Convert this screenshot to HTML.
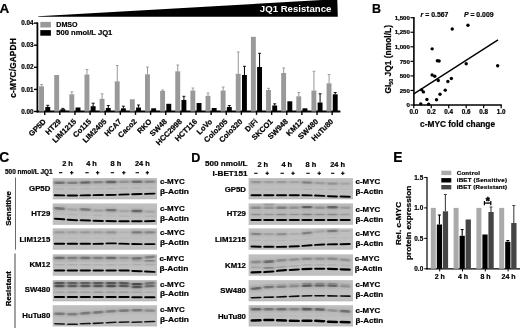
<!DOCTYPE html>
<html lang="en"><head><meta charset="utf-8"><title>Figure</title>
<style>html,body{margin:0;padding:0;background:#fff;}body{width:520px;height:328px;overflow:hidden;}svg{display:block;font-family:"Liberation Sans", sans-serif;}</style>
</head><body>
<svg width="520" height="328" viewBox="0 0 520 328">
<defs>
<filter id="b1" x="-5%" y="-50%" width="110%" height="200%"><feGaussianBlur stdDeviation="0.8 0.5"/></filter>
<filter id="b2" x="-5%" y="-50%" width="110%" height="200%"><feGaussianBlur stdDeviation="0.7 0.4"/></filter>
<filter id="b3" x="-10%" y="-50%" width="120%" height="200%"><feGaussianBlur stdDeviation="1.2 1.1"/></filter>
<filter id="soft" x="-2%" y="-2%" width="104%" height="104%"><feGaussianBlur stdDeviation="0.35"/></filter>
</defs>
<rect x="0" y="0" width="520" height="328" fill="#fff"/>
<g id="panelA" filter="url(#soft)">
<text x="-0.5" y="13.0" font-size="13.5" text-anchor="start" font-weight="bold" fill="#000" stroke="#000" stroke-width="0.22">A</text>
<polygon points="38.2,16.2 38.2,16.7 337.8,16.7 337.3,0 322,0" fill="#000"/>
<text x="295.6" y="11.9" font-size="9.6" text-anchor="middle" font-weight="bold" fill="#fff">JQ1 Resistance</text>
<line x1="37.40" y1="22.40" x2="37.40" y2="112.40" stroke="#000" stroke-width="1.8"/>
<line x1="36.50" y1="111.50" x2="340.40" y2="111.50" stroke="#000" stroke-width="2.0"/>
<line x1="34.00" y1="111.50" x2="37.40" y2="111.50" stroke="#000" stroke-width="1.4"/>
<text x="33.4" y="113.6" font-size="6.3" text-anchor="end" font-weight="bold" fill="#000" stroke="#000" stroke-width="0.22">0.00</text>
<line x1="34.00" y1="89.40" x2="37.40" y2="89.40" stroke="#000" stroke-width="1.4"/>
<text x="33.4" y="91.5" font-size="6.3" text-anchor="end" font-weight="bold" fill="#000" stroke="#000" stroke-width="0.22">0.01</text>
<line x1="34.00" y1="67.30" x2="37.40" y2="67.30" stroke="#000" stroke-width="1.4"/>
<text x="33.4" y="69.39999999999999" font-size="6.3" text-anchor="end" font-weight="bold" fill="#000" stroke="#000" stroke-width="0.22">0.02</text>
<line x1="34.00" y1="45.20" x2="37.40" y2="45.20" stroke="#000" stroke-width="1.4"/>
<text x="33.4" y="47.29999999999999" font-size="6.3" text-anchor="end" font-weight="bold" fill="#000" stroke="#000" stroke-width="0.22">0.03</text>
<line x1="34.00" y1="23.10" x2="37.40" y2="23.10" stroke="#000" stroke-width="1.4"/>
<text x="33.4" y="25.199999999999996" font-size="6.3" text-anchor="end" font-weight="bold" fill="#000" stroke="#000" stroke-width="0.22">0.04</text>
<text x="15.9" y="68.0" font-size="8.4" text-anchor="middle" font-weight="bold" fill="#000" transform="rotate(-90 15.9 68.0)" stroke="#000" stroke-width="0.22" textLength="59.4" lengthAdjust="spacing">c-MYC/GAPDH</text>
<rect x="40.30" y="21.90" width="10.60" height="5.60" fill="#999"/>
<text x="56.3" y="27.3" font-size="7.5" text-anchor="start" font-weight="bold" fill="#000" stroke="#000" stroke-width="0.22" textLength="21.2" lengthAdjust="spacingAndGlyphs">DMSO</text>
<rect x="40.30" y="30.10" width="10.60" height="5.60" fill="#000"/>
<text x="56.3" y="35.4" font-size="7.5" text-anchor="start" font-weight="bold" fill="#000" stroke="#000" stroke-width="0.22" textLength="56" lengthAdjust="spacingAndGlyphs">500 nmol/L JQ1</text>
<line x1="41.60" y1="84.50" x2="41.60" y2="86.30" stroke="#999" stroke-width="1.0"/>
<line x1="40.20" y1="84.50" x2="43.00" y2="84.50" stroke="#999" stroke-width="0.9"/>
<rect x="39.10" y="86.30" width="4.90" height="25.20" fill="#999"/>
<line x1="47.75" y1="105.30" x2="47.75" y2="107.00" stroke="#000" stroke-width="1.0"/>
<line x1="46.25" y1="105.30" x2="49.25" y2="105.30" stroke="#000" stroke-width="0.9"/>
<rect x="45.30" y="107.00" width="4.90" height="4.50" fill="#000"/>
<line x1="44.70" y1="111.50" x2="44.70" y2="114.90" stroke="#000" stroke-width="1.4"/>
<text x="46.400000000000006" y="122.1" font-size="7.6" text-anchor="end" font-weight="bold" fill="#000" transform="rotate(-45 46.400000000000006 122.1)" stroke="#000" stroke-width="0.22">GP5D</text>
<rect x="54.23" y="75.00" width="4.90" height="36.50" fill="#999"/>
<line x1="62.88" y1="108.40" x2="62.88" y2="109.20" stroke="#000" stroke-width="1.0"/>
<line x1="61.38" y1="108.40" x2="64.38" y2="108.40" stroke="#000" stroke-width="0.9"/>
<rect x="60.43" y="109.20" width="4.90" height="2.30" fill="#000"/>
<line x1="59.83" y1="111.50" x2="59.83" y2="114.90" stroke="#000" stroke-width="1.4"/>
<text x="61.53000000000001" y="122.1" font-size="7.6" text-anchor="end" font-weight="bold" fill="#000" transform="rotate(-45 61.53000000000001 122.1)" stroke="#000" stroke-width="0.22">HT29</text>
<line x1="71.86" y1="91.80" x2="71.86" y2="94.30" stroke="#999" stroke-width="1.0"/>
<line x1="70.46" y1="91.80" x2="73.26" y2="91.80" stroke="#999" stroke-width="0.9"/>
<rect x="69.36" y="94.30" width="4.90" height="17.20" fill="#999"/>
<rect x="75.56" y="107.50" width="4.90" height="4.00" fill="#000"/>
<line x1="74.96" y1="111.50" x2="74.96" y2="114.90" stroke="#000" stroke-width="1.4"/>
<text x="76.66000000000001" y="122.1" font-size="7.6" text-anchor="end" font-weight="bold" fill="#000" transform="rotate(-45 76.66000000000001 122.1)" stroke="#000" stroke-width="0.22">LIM1215</text>
<line x1="86.99" y1="69.50" x2="86.99" y2="74.50" stroke="#999" stroke-width="1.0"/>
<line x1="85.59" y1="69.50" x2="88.39" y2="69.50" stroke="#999" stroke-width="0.9"/>
<rect x="84.49" y="74.50" width="4.90" height="37.00" fill="#999"/>
<line x1="93.14" y1="103.20" x2="93.14" y2="106.20" stroke="#000" stroke-width="1.0"/>
<line x1="91.64" y1="103.20" x2="94.64" y2="103.20" stroke="#000" stroke-width="0.9"/>
<rect x="90.69" y="106.20" width="4.90" height="5.30" fill="#000"/>
<line x1="90.09" y1="111.50" x2="90.09" y2="114.90" stroke="#000" stroke-width="1.4"/>
<text x="91.79" y="122.1" font-size="7.6" text-anchor="end" font-weight="bold" fill="#000" transform="rotate(-45 91.79 122.1)" stroke="#000" stroke-width="0.22">Co115</text>
<line x1="102.12" y1="93.80" x2="102.12" y2="98.80" stroke="#999" stroke-width="1.0"/>
<line x1="100.72" y1="93.80" x2="103.52" y2="93.80" stroke="#999" stroke-width="0.9"/>
<rect x="99.62" y="98.80" width="4.90" height="12.70" fill="#999"/>
<line x1="108.27" y1="105.50" x2="108.27" y2="108.00" stroke="#000" stroke-width="1.0"/>
<line x1="106.77" y1="105.50" x2="109.77" y2="105.50" stroke="#000" stroke-width="0.9"/>
<rect x="105.82" y="108.00" width="4.90" height="3.50" fill="#000"/>
<line x1="105.22" y1="111.50" x2="105.22" y2="114.90" stroke="#000" stroke-width="1.4"/>
<text x="106.92000000000002" y="122.1" font-size="7.6" text-anchor="end" font-weight="bold" fill="#000" transform="rotate(-45 106.92000000000002 122.1)" stroke="#000" stroke-width="0.22">LIM2405</text>
<line x1="117.25" y1="65.50" x2="117.25" y2="81.30" stroke="#999" stroke-width="1.0"/>
<line x1="115.85" y1="65.50" x2="118.65" y2="65.50" stroke="#999" stroke-width="0.9"/>
<rect x="114.75" y="81.30" width="4.90" height="30.20" fill="#999"/>
<line x1="123.40" y1="106.20" x2="123.40" y2="108.30" stroke="#000" stroke-width="1.0"/>
<line x1="121.90" y1="106.20" x2="124.90" y2="106.20" stroke="#000" stroke-width="0.9"/>
<rect x="120.95" y="108.30" width="4.90" height="3.20" fill="#000"/>
<line x1="120.35" y1="111.50" x2="120.35" y2="114.90" stroke="#000" stroke-width="1.4"/>
<text x="122.05000000000001" y="122.1" font-size="7.6" text-anchor="end" font-weight="bold" fill="#000" transform="rotate(-45 122.05000000000001 122.1)" stroke="#000" stroke-width="0.22">HCA7</text>
<rect x="129.88" y="99.30" width="4.90" height="12.20" fill="#999"/>
<line x1="138.53" y1="105.00" x2="138.53" y2="107.50" stroke="#000" stroke-width="1.0"/>
<line x1="137.03" y1="105.00" x2="140.03" y2="105.00" stroke="#000" stroke-width="0.9"/>
<rect x="136.08" y="107.50" width="4.90" height="4.00" fill="#000"/>
<line x1="135.48" y1="111.50" x2="135.48" y2="114.90" stroke="#000" stroke-width="1.4"/>
<text x="137.17999999999998" y="122.1" font-size="7.6" text-anchor="end" font-weight="bold" fill="#000" transform="rotate(-45 137.17999999999998 122.1)" stroke="#000" stroke-width="0.22">Caco2</text>
<line x1="147.51" y1="67.00" x2="147.51" y2="74.30" stroke="#999" stroke-width="1.0"/>
<line x1="146.11" y1="67.00" x2="148.91" y2="67.00" stroke="#999" stroke-width="0.9"/>
<rect x="145.01" y="74.30" width="4.90" height="37.20" fill="#999"/>
<rect x="151.21" y="108.30" width="4.90" height="3.20" fill="#000"/>
<line x1="150.61" y1="111.50" x2="150.61" y2="114.90" stroke="#000" stroke-width="1.4"/>
<text x="152.31" y="122.1" font-size="7.6" text-anchor="end" font-weight="bold" fill="#000" transform="rotate(-45 152.31 122.1)" stroke="#000" stroke-width="0.22">RKO</text>
<line x1="162.64" y1="90.00" x2="162.64" y2="90.80" stroke="#999" stroke-width="1.0"/>
<line x1="161.24" y1="90.00" x2="164.04" y2="90.00" stroke="#999" stroke-width="0.9"/>
<rect x="160.14" y="90.80" width="4.90" height="20.70" fill="#999"/>
<rect x="166.34" y="103.80" width="4.90" height="7.70" fill="#000"/>
<line x1="165.74" y1="111.50" x2="165.74" y2="114.90" stroke="#000" stroke-width="1.4"/>
<text x="167.44" y="122.1" font-size="7.6" text-anchor="end" font-weight="bold" fill="#000" transform="rotate(-45 167.44 122.1)" stroke="#000" stroke-width="0.22">SW48</text>
<line x1="177.77" y1="65.00" x2="177.77" y2="71.30" stroke="#999" stroke-width="1.0"/>
<line x1="176.37" y1="65.00" x2="179.17" y2="65.00" stroke="#999" stroke-width="0.9"/>
<rect x="175.27" y="71.30" width="4.90" height="40.20" fill="#999"/>
<line x1="183.92" y1="96.30" x2="183.92" y2="100.00" stroke="#000" stroke-width="1.0"/>
<line x1="182.42" y1="96.30" x2="185.42" y2="96.30" stroke="#000" stroke-width="0.9"/>
<rect x="181.47" y="100.00" width="4.90" height="11.50" fill="#000"/>
<line x1="180.87" y1="111.50" x2="180.87" y2="114.90" stroke="#000" stroke-width="1.4"/>
<text x="182.57" y="122.1" font-size="7.6" text-anchor="end" font-weight="bold" fill="#000" transform="rotate(-45 182.57 122.1)" stroke="#000" stroke-width="0.22">HCC2998</text>
<line x1="192.90" y1="88.00" x2="192.90" y2="90.50" stroke="#999" stroke-width="1.0"/>
<line x1="191.50" y1="88.00" x2="194.30" y2="88.00" stroke="#999" stroke-width="0.9"/>
<rect x="190.40" y="90.50" width="4.90" height="21.00" fill="#999"/>
<rect x="196.60" y="103.00" width="4.90" height="8.50" fill="#000"/>
<line x1="196.00" y1="111.50" x2="196.00" y2="114.90" stroke="#000" stroke-width="1.4"/>
<text x="197.7" y="122.1" font-size="7.6" text-anchor="end" font-weight="bold" fill="#000" transform="rotate(-45 197.7 122.1)" stroke="#000" stroke-width="0.22">HCT116</text>
<line x1="208.03" y1="93.00" x2="208.03" y2="95.80" stroke="#999" stroke-width="1.0"/>
<line x1="206.63" y1="93.00" x2="209.43" y2="93.00" stroke="#999" stroke-width="0.9"/>
<rect x="205.53" y="95.80" width="4.90" height="15.70" fill="#999"/>
<rect x="211.73" y="108.00" width="4.90" height="3.50" fill="#000"/>
<line x1="211.13" y1="111.50" x2="211.13" y2="114.90" stroke="#000" stroke-width="1.4"/>
<text x="212.82999999999998" y="122.1" font-size="7.6" text-anchor="end" font-weight="bold" fill="#000" transform="rotate(-45 212.82999999999998 122.1)" stroke="#000" stroke-width="0.22">LoVo</text>
<line x1="223.16" y1="87.00" x2="223.16" y2="90.50" stroke="#999" stroke-width="1.0"/>
<line x1="221.76" y1="87.00" x2="224.56" y2="87.00" stroke="#999" stroke-width="0.9"/>
<rect x="220.66" y="90.50" width="4.90" height="21.00" fill="#999"/>
<line x1="229.31" y1="105.50" x2="229.31" y2="107.00" stroke="#000" stroke-width="1.0"/>
<line x1="227.81" y1="105.50" x2="230.81" y2="105.50" stroke="#000" stroke-width="0.9"/>
<rect x="226.86" y="107.00" width="4.90" height="4.50" fill="#000"/>
<line x1="226.26" y1="111.50" x2="226.26" y2="114.90" stroke="#000" stroke-width="1.4"/>
<text x="227.95999999999998" y="122.1" font-size="7.6" text-anchor="end" font-weight="bold" fill="#000" transform="rotate(-45 227.95999999999998 122.1)" stroke="#000" stroke-width="0.22">Colo205</text>
<line x1="238.29" y1="52.00" x2="238.29" y2="73.80" stroke="#999" stroke-width="1.0"/>
<line x1="236.89" y1="52.00" x2="239.69" y2="52.00" stroke="#999" stroke-width="0.9"/>
<rect x="235.79" y="73.80" width="4.90" height="37.70" fill="#999"/>
<line x1="244.44" y1="66.30" x2="244.44" y2="75.00" stroke="#000" stroke-width="1.0"/>
<line x1="242.94" y1="66.30" x2="245.94" y2="66.30" stroke="#000" stroke-width="0.9"/>
<rect x="241.99" y="75.00" width="4.90" height="36.50" fill="#000"/>
<line x1="241.39" y1="111.50" x2="241.39" y2="114.90" stroke="#000" stroke-width="1.4"/>
<text x="243.08999999999997" y="122.1" font-size="7.6" text-anchor="end" font-weight="bold" fill="#000" transform="rotate(-45 243.08999999999997 122.1)" stroke="#000" stroke-width="0.22">Colo320</text>
<rect x="250.92" y="36.80" width="4.90" height="74.70" fill="#999"/>
<line x1="259.57" y1="53.30" x2="259.57" y2="67.00" stroke="#000" stroke-width="1.0"/>
<line x1="258.07" y1="53.30" x2="261.07" y2="53.30" stroke="#000" stroke-width="0.9"/>
<rect x="257.12" y="67.00" width="4.90" height="44.50" fill="#000"/>
<line x1="256.52" y1="111.50" x2="256.52" y2="114.90" stroke="#000" stroke-width="1.4"/>
<text x="258.22" y="122.1" font-size="7.6" text-anchor="end" font-weight="bold" fill="#000" transform="rotate(-45 258.22 122.1)" stroke="#000" stroke-width="0.22">DiFi</text>
<line x1="268.55" y1="88.30" x2="268.55" y2="90.00" stroke="#999" stroke-width="1.0"/>
<line x1="267.15" y1="88.30" x2="269.95" y2="88.30" stroke="#999" stroke-width="0.9"/>
<rect x="266.05" y="90.00" width="4.90" height="21.50" fill="#999"/>
<line x1="274.70" y1="103.80" x2="274.70" y2="105.50" stroke="#000" stroke-width="1.0"/>
<line x1="273.20" y1="103.80" x2="276.20" y2="103.80" stroke="#000" stroke-width="0.9"/>
<rect x="272.25" y="105.50" width="4.90" height="6.00" fill="#000"/>
<line x1="271.65" y1="111.50" x2="271.65" y2="114.90" stroke="#000" stroke-width="1.4"/>
<text x="273.35" y="122.1" font-size="7.6" text-anchor="end" font-weight="bold" fill="#000" transform="rotate(-45 273.35 122.1)" stroke="#000" stroke-width="0.22">SKCO1</text>
<line x1="283.68" y1="68.00" x2="283.68" y2="73.00" stroke="#999" stroke-width="1.0"/>
<line x1="282.28" y1="68.00" x2="285.08" y2="68.00" stroke="#999" stroke-width="0.9"/>
<rect x="281.18" y="73.00" width="4.90" height="38.50" fill="#999"/>
<rect x="287.38" y="101.30" width="4.90" height="10.20" fill="#000"/>
<line x1="286.78" y1="111.50" x2="286.78" y2="114.90" stroke="#000" stroke-width="1.4"/>
<text x="288.48" y="122.1" font-size="7.6" text-anchor="end" font-weight="bold" fill="#000" transform="rotate(-45 288.48 122.1)" stroke="#000" stroke-width="0.22">SW948</text>
<line x1="298.81" y1="92.50" x2="298.81" y2="96.30" stroke="#999" stroke-width="1.0"/>
<line x1="297.41" y1="92.50" x2="300.21" y2="92.50" stroke="#999" stroke-width="0.9"/>
<rect x="296.31" y="96.30" width="4.90" height="15.20" fill="#999"/>
<rect x="302.51" y="108.30" width="4.90" height="3.20" fill="#000"/>
<line x1="301.91" y1="111.50" x2="301.91" y2="114.90" stroke="#000" stroke-width="1.4"/>
<text x="303.61" y="122.1" font-size="7.6" text-anchor="end" font-weight="bold" fill="#000" transform="rotate(-45 303.61 122.1)" stroke="#000" stroke-width="0.22">KM12</text>
<line x1="313.94" y1="71.30" x2="313.94" y2="90.50" stroke="#999" stroke-width="1.0"/>
<line x1="312.54" y1="71.30" x2="315.34" y2="71.30" stroke="#999" stroke-width="0.9"/>
<rect x="311.44" y="90.50" width="4.90" height="21.00" fill="#999"/>
<line x1="320.09" y1="93.80" x2="320.09" y2="102.50" stroke="#000" stroke-width="1.0"/>
<line x1="318.59" y1="93.80" x2="321.59" y2="93.80" stroke="#000" stroke-width="0.9"/>
<rect x="317.64" y="102.50" width="4.90" height="9.00" fill="#000"/>
<line x1="317.04" y1="111.50" x2="317.04" y2="114.90" stroke="#000" stroke-width="1.4"/>
<text x="318.74" y="122.1" font-size="7.6" text-anchor="end" font-weight="bold" fill="#000" transform="rotate(-45 318.74 122.1)" stroke="#000" stroke-width="0.22">SW480</text>
<line x1="329.07" y1="74.50" x2="329.07" y2="83.30" stroke="#999" stroke-width="1.0"/>
<line x1="327.67" y1="74.50" x2="330.47" y2="74.50" stroke="#999" stroke-width="0.9"/>
<rect x="326.57" y="83.30" width="4.90" height="28.20" fill="#999"/>
<line x1="335.22" y1="92.50" x2="335.22" y2="94.30" stroke="#000" stroke-width="1.0"/>
<line x1="333.72" y1="92.50" x2="336.72" y2="92.50" stroke="#000" stroke-width="0.9"/>
<rect x="332.77" y="94.30" width="4.90" height="17.20" fill="#000"/>
<line x1="332.17" y1="111.50" x2="332.17" y2="114.90" stroke="#000" stroke-width="1.4"/>
<text x="333.87" y="122.1" font-size="7.6" text-anchor="end" font-weight="bold" fill="#000" transform="rotate(-45 333.87 122.1)" stroke="#000" stroke-width="0.22">HuTu80</text>
</g>
<g id="panelB" filter="url(#soft)">
<text x="371.9" y="12.8" font-size="13.3" text-anchor="start" font-weight="bold" fill="#000" stroke="#000" stroke-width="0.22" textLength="9.0" lengthAdjust="spacingAndGlyphs">B</text>
<line x1="413.90" y1="17.00" x2="413.90" y2="105.80" stroke="#000" stroke-width="1.6"/>
<line x1="413.10" y1="105.00" x2="501.85" y2="105.00" stroke="#000" stroke-width="1.6"/>
<line x1="410.50" y1="105.00" x2="413.90" y2="105.00" stroke="#000" stroke-width="1.2"/>
<text x="409.9" y="107.2" font-size="6.1" text-anchor="end" font-weight="bold" fill="#000" stroke="#000" stroke-width="0.22">0</text>
<line x1="410.50" y1="90.45" x2="413.90" y2="90.45" stroke="#000" stroke-width="1.2"/>
<text x="409.9" y="92.65" font-size="6.1" text-anchor="end" font-weight="bold" fill="#000" stroke="#000" stroke-width="0.22">250</text>
<line x1="410.50" y1="75.90" x2="413.90" y2="75.90" stroke="#000" stroke-width="1.2"/>
<text x="409.9" y="78.10000000000001" font-size="6.1" text-anchor="end" font-weight="bold" fill="#000" stroke="#000" stroke-width="0.22">500</text>
<line x1="410.50" y1="61.35" x2="413.90" y2="61.35" stroke="#000" stroke-width="1.2"/>
<text x="409.9" y="63.550000000000004" font-size="6.1" text-anchor="end" font-weight="bold" fill="#000" stroke="#000" stroke-width="0.22">750</text>
<line x1="410.50" y1="46.80" x2="413.90" y2="46.80" stroke="#000" stroke-width="1.2"/>
<text x="409.9" y="49.00000000000001" font-size="6.1" text-anchor="end" font-weight="bold" fill="#000" stroke="#000" stroke-width="0.22">1,000</text>
<line x1="410.50" y1="32.25" x2="413.90" y2="32.25" stroke="#000" stroke-width="1.2"/>
<text x="409.9" y="34.45" font-size="6.1" text-anchor="end" font-weight="bold" fill="#000" stroke="#000" stroke-width="0.22">1,250</text>
<line x1="410.50" y1="17.70" x2="413.90" y2="17.70" stroke="#000" stroke-width="1.2"/>
<text x="409.9" y="19.900000000000002" font-size="6.1" text-anchor="end" font-weight="bold" fill="#000" stroke="#000" stroke-width="0.22">1,500</text>
<line x1="413.80" y1="105.00" x2="413.80" y2="108.20" stroke="#000" stroke-width="1.2"/>
<text x="413.8" y="114.4" font-size="6.3" text-anchor="middle" font-weight="bold" fill="#000" stroke="#000" stroke-width="0.22">0.0</text>
<line x1="431.27" y1="105.00" x2="431.27" y2="108.20" stroke="#000" stroke-width="1.2"/>
<text x="431.27" y="114.4" font-size="6.3" text-anchor="middle" font-weight="bold" fill="#000" stroke="#000" stroke-width="0.22">0.2</text>
<line x1="448.74" y1="105.00" x2="448.74" y2="108.20" stroke="#000" stroke-width="1.2"/>
<text x="448.74" y="114.4" font-size="6.3" text-anchor="middle" font-weight="bold" fill="#000" stroke="#000" stroke-width="0.22">0.4</text>
<line x1="466.21" y1="105.00" x2="466.21" y2="108.20" stroke="#000" stroke-width="1.2"/>
<text x="466.21000000000004" y="114.4" font-size="6.3" text-anchor="middle" font-weight="bold" fill="#000" stroke="#000" stroke-width="0.22">0.6</text>
<line x1="483.68" y1="105.00" x2="483.68" y2="108.20" stroke="#000" stroke-width="1.2"/>
<text x="483.68" y="114.4" font-size="6.3" text-anchor="middle" font-weight="bold" fill="#000" stroke="#000" stroke-width="0.22">0.8</text>
<line x1="501.15" y1="105.00" x2="501.15" y2="108.20" stroke="#000" stroke-width="1.2"/>
<text x="501.15" y="114.4" font-size="6.3" text-anchor="middle" font-weight="bold" fill="#000" stroke="#000" stroke-width="0.22">1.0</text>
<text x="457.6" y="126.7" font-size="8.4" text-anchor="middle" font-weight="bold" fill="#000" stroke="#000" stroke-width="0.22" textLength="75" lengthAdjust="spacingAndGlyphs">c-MYC fold change</text>
<text x="391.0" y="59.3" font-size="8.2" text-anchor="middle" font-weight="bold" stroke="#000" stroke-width="0.22" transform="rotate(-90 391.0 59.3)" textLength="68.5" lengthAdjust="spacingAndGlyphs">GI<tspan font-size="5.2" dy="1.6">50</tspan><tspan dy="-1.6"> JQ1 (nmol/L)</tspan></text>
<text x="420.6" y="17.1" font-size="6.9" font-weight="bold" stroke="#000" stroke-width="0.2"><tspan font-style="italic">r</tspan> = 0.567</text>
<text x="463.9" y="17.1" font-size="6.9" font-weight="bold" stroke="#000" stroke-width="0.2"><tspan font-style="italic">P</tspan> = 0.009</text>
<line x1="413.80" y1="93.80" x2="498.00" y2="39.80" stroke="#000" stroke-width="1.4"/>
<circle cx="497.66" cy="65.72" r="1.7" fill="#000"/>
<circle cx="467.96" cy="25.27" r="1.7" fill="#000"/>
<circle cx="452.23" cy="29.05" r="1.7" fill="#000"/>
<circle cx="466.21" cy="63.68" r="1.7" fill="#000"/>
<circle cx="432.14" cy="48.84" r="1.7" fill="#000"/>
<circle cx="437.38" cy="60.77" r="1.7" fill="#000"/>
<circle cx="439.13" cy="61.06" r="1.7" fill="#000"/>
<circle cx="432.14" cy="75.03" r="1.7" fill="#000"/>
<circle cx="434.76" cy="76.19" r="1.7" fill="#000"/>
<circle cx="451.36" cy="78.52" r="1.7" fill="#000"/>
<circle cx="447.87" cy="81.43" r="1.7" fill="#000"/>
<circle cx="438.26" cy="80.56" r="1.7" fill="#000"/>
<circle cx="445.25" cy="90.16" r="1.7" fill="#000"/>
<circle cx="440.00" cy="94.23" r="1.7" fill="#000"/>
<circle cx="421.66" cy="89.87" r="1.7" fill="#000"/>
<circle cx="423.41" cy="91.91" r="1.7" fill="#000"/>
<circle cx="426.90" cy="99.47" r="1.7" fill="#000"/>
<circle cx="436.51" cy="99.76" r="1.7" fill="#000"/>
<circle cx="420.79" cy="103.84" r="1.7" fill="#000"/>
<circle cx="428.65" cy="104.13" r="1.7" fill="#000"/>
</g>
<g id="panelC" filter="url(#soft)">
<text x="-0.7" y="162.0" font-size="13.8" text-anchor="start" font-weight="bold" fill="#000" stroke="#000" stroke-width="0.22">C</text>
<text x="67.5" y="165.9" font-size="7.4" text-anchor="middle" font-weight="bold" fill="#000" stroke="#000" stroke-width="0.22">2 h</text>
<text x="91.5" y="165.9" font-size="7.4" text-anchor="middle" font-weight="bold" fill="#000" stroke="#000" stroke-width="0.22">4 h</text>
<text x="115.9" y="165.9" font-size="7.4" text-anchor="middle" font-weight="bold" fill="#000" stroke="#000" stroke-width="0.22">8 h</text>
<text x="142.4" y="165.9" font-size="7.4" text-anchor="middle" font-weight="bold" fill="#000" stroke="#000" stroke-width="0.22">24 h</text>
<text x="5.0" y="173.8" font-size="7.0" text-anchor="start" font-weight="bold" fill="#000" stroke="#000" stroke-width="0.22" textLength="47.7" lengthAdjust="spacingAndGlyphs">500 nmol/L JQ1</text>
<line x1="59.00" y1="172.70" x2="62.40" y2="172.70" stroke="#000" stroke-width="1.1"/>
<line x1="70.00" y1="172.70" x2="73.40" y2="172.70" stroke="#000" stroke-width="1.1"/>
<line x1="71.70" y1="170.90" x2="71.70" y2="174.50" stroke="#000" stroke-width="1.1"/>
<line x1="85.30" y1="172.70" x2="88.70" y2="172.70" stroke="#000" stroke-width="1.1"/>
<line x1="95.90" y1="172.70" x2="99.30" y2="172.70" stroke="#000" stroke-width="1.1"/>
<line x1="97.60" y1="170.90" x2="97.60" y2="174.50" stroke="#000" stroke-width="1.1"/>
<line x1="110.70" y1="172.70" x2="114.10" y2="172.70" stroke="#000" stroke-width="1.1"/>
<line x1="122.10" y1="172.70" x2="125.50" y2="172.70" stroke="#000" stroke-width="1.1"/>
<line x1="123.80" y1="170.90" x2="123.80" y2="174.50" stroke="#000" stroke-width="1.1"/>
<line x1="135.60" y1="172.70" x2="139.00" y2="172.70" stroke="#000" stroke-width="1.1"/>
<line x1="145.60" y1="172.70" x2="149.00" y2="172.70" stroke="#000" stroke-width="1.1"/>
<line x1="147.30" y1="170.90" x2="147.30" y2="174.50" stroke="#000" stroke-width="1.1"/>
<line x1="15.50" y1="177.50" x2="15.50" y2="249.70" stroke="#444" stroke-width="0.8"/>
<line x1="15.00" y1="253.60" x2="15.00" y2="328.00" stroke="#707070" stroke-width="1.3"/>
<text x="11.0" y="208.5" font-size="8.0" text-anchor="middle" font-weight="bold" fill="#000" transform="rotate(-90 11.0 208.5)" stroke="#000" stroke-width="0.22" textLength="34.6" lengthAdjust="spacingAndGlyphs">Sensitive</text>
<text x="11.0" y="288.7" font-size="8.0" text-anchor="middle" font-weight="bold" fill="#000" transform="rotate(-90 11.0 288.7)" stroke="#000" stroke-width="0.22" textLength="35" lengthAdjust="spacingAndGlyphs">Resistant</text>
<clipPath id="cp1"><rect x="52.5" y="177.9" width="104.6" height="21.5"/></clipPath>
<g clip-path="url(#cp1)">
<rect x="52.50" y="177.90" width="104.60" height="21.50" fill="rgb(191,191,191)"/>
<rect x="52.50" y="177.90" width="104.60" height="0.80" fill="rgb(209,209,209)" opacity="0.7"/>
<rect x="52.50" y="198.50" width="104.60" height="0.90" fill="rgb(177,177,177)" opacity="0.7"/>
<g filter="url(#b3)">
<rect x="53.50" y="180.20" width="12.00" height="5.60" fill="rgb(174,174,174)"/>
<rect x="66.40" y="180.20" width="12.00" height="5.60" fill="rgb(177,177,177)"/>
<rect x="79.30" y="179.90" width="12.00" height="5.60" fill="rgb(171,171,171)"/>
<rect x="92.20" y="179.60" width="12.00" height="5.60" fill="rgb(178,178,178)"/>
<rect x="105.10" y="179.40" width="12.00" height="5.60" fill="rgb(171,171,171)"/>
<rect x="118.00" y="179.20" width="12.00" height="5.60" fill="rgb(181,181,181)"/>
<rect x="130.90" y="179.20" width="12.00" height="5.60" fill="rgb(173,173,173)"/>
<rect x="143.80" y="179.10" width="12.00" height="5.60" fill="rgb(178,178,178)"/>
</g>
<g filter="url(#b1)">
<rect x="54.20" y="181.60" width="10.60" height="2.40" fill="rgb(114,114,114)" rx="1.4" ry="1.20"/>
<rect x="67.10" y="181.60" width="10.60" height="2.40" fill="rgb(127,127,127)" rx="1.4" ry="1.20" transform="rotate(-0.7 72.4 182.8)"/>
<rect x="80.00" y="181.30" width="10.60" height="2.40" fill="rgb(101,101,101)" rx="1.4" ry="1.20" transform="rotate(-1.3 85.3 182.5)"/>
<rect x="92.90" y="181.00" width="10.60" height="2.40" fill="rgb(133,133,133)" rx="1.4" ry="1.20" transform="rotate(-1.1 98.2 182.2)"/>
<rect x="105.80" y="180.80" width="10.60" height="2.40" fill="rgb(101,101,101)" rx="1.4" ry="1.20" transform="rotate(-0.9 111.1 182.0)"/>
<rect x="118.70" y="180.60" width="10.60" height="2.40" fill="rgb(146,146,146)" rx="1.4" ry="1.20" transform="rotate(-0.4 124.0 181.8)"/>
<rect x="131.60" y="180.60" width="10.60" height="2.40" fill="rgb(108,108,108)" rx="1.4" ry="1.20"/>
<rect x="144.50" y="180.50" width="10.60" height="2.40" fill="rgb(133,133,133)" rx="1.4" ry="1.20" transform="rotate(-0.4 149.8 181.7)"/>
</g>
<g filter="url(#b1)">
<rect x="54.20" y="188.30" width="10.60" height="1.40" fill="rgb(177,177,177)" rx="1.4" ry="0.70"/>
<rect x="67.10" y="188.30" width="10.60" height="1.40" fill="rgb(180,180,180)" rx="1.4" ry="0.70" transform="rotate(-0.4 72.4 189.0)"/>
<rect x="80.00" y="188.10" width="10.60" height="1.40" fill="rgb(177,177,177)" rx="1.4" ry="0.70" transform="rotate(-0.9 85.3 188.8)"/>
<rect x="92.90" y="187.90" width="10.60" height="1.40" fill="rgb(180,180,180)" rx="1.4" ry="0.70" transform="rotate(-0.9 98.2 188.6)"/>
<rect x="105.80" y="187.70" width="10.60" height="1.40" fill="rgb(177,177,177)" rx="1.4" ry="0.70" transform="rotate(-0.9 111.1 188.4)"/>
<rect x="118.70" y="187.50" width="10.60" height="1.40" fill="rgb(177,177,177)" rx="1.4" ry="0.70" transform="rotate(-0.9 124.0 188.2)"/>
<rect x="131.60" y="187.30" width="10.60" height="1.40" fill="rgb(177,177,177)" rx="1.4" ry="0.70" transform="rotate(-0.9 136.9 188.0)"/>
<rect x="144.50" y="187.10" width="10.60" height="1.40" fill="rgb(180,180,180)" rx="1.4" ry="0.70" transform="rotate(-0.9 149.8 187.8)"/>
</g>
<g filter="url(#b2)">
<rect x="53.70" y="194.37" width="11.60" height="1.87" fill="rgb(4,4,4)" rx="1.8" ry="0.94" transform="rotate(0.9 59.5 195.3)"/>
<rect x="66.60" y="194.56" width="11.60" height="1.87" fill="rgb(4,4,4)" rx="1.8" ry="0.94"/>
<rect x="79.50" y="194.37" width="11.60" height="1.87" fill="rgb(4,4,4)" rx="1.8" ry="0.94" transform="rotate(-0.9 85.3 195.3)"/>
<rect x="92.40" y="194.17" width="11.60" height="1.87" fill="rgb(4,4,4)" rx="1.8" ry="0.94" transform="rotate(-0.9 98.2 195.1)"/>
<rect x="105.30" y="193.97" width="11.60" height="1.87" fill="rgb(4,4,4)" rx="1.8" ry="0.94" transform="rotate(-1.3 111.1 194.9)"/>
<rect x="118.20" y="193.56" width="11.60" height="1.87" fill="rgb(4,4,4)" rx="1.8" ry="0.94" transform="rotate(-1.8 124.0 194.5)"/>
<rect x="131.10" y="193.17" width="11.60" height="1.87" fill="rgb(4,4,4)" rx="1.8" ry="0.94" transform="rotate(-1.8 136.9 194.1)"/>
<rect x="144.00" y="192.77" width="11.60" height="1.87" fill="rgb(4,4,4)" rx="1.8" ry="0.94" transform="rotate(-1.8 149.8 193.7)"/>
</g>
</g>
<text x="50.3" y="191.05" font-size="7.8" text-anchor="end" font-weight="bold" fill="#000" stroke="#000" stroke-width="0.22">GP5D</text>
<text x="160.0" y="184.3" font-size="7.8" text-anchor="start" font-weight="bold" fill="#000" stroke="#000" stroke-width="0.22" textLength="24.8" lengthAdjust="spacingAndGlyphs">c-MYC</text>
<text x="160.0" y="194.4" font-size="7.8" text-anchor="start" font-weight="bold" fill="#000" stroke="#000" stroke-width="0.22" textLength="28.9" lengthAdjust="spacingAndGlyphs">β-Actin</text>
<clipPath id="cp2"><rect x="52.5" y="203.3" width="104.6" height="21.5"/></clipPath>
<g clip-path="url(#cp2)">
<rect x="52.50" y="203.30" width="104.60" height="21.50" fill="rgb(191,191,191)"/>
<rect x="52.50" y="203.30" width="104.60" height="0.80" fill="rgb(209,209,209)" opacity="0.7"/>
<rect x="52.50" y="223.90" width="104.60" height="0.90" fill="rgb(177,177,177)" opacity="0.7"/>
<g filter="url(#b3)">
<rect x="53.50" y="205.90" width="12.00" height="5.60" fill="rgb(174,174,174)"/>
<rect x="66.40" y="206.90" width="12.00" height="5.60" fill="rgb(185,185,185)"/>
<rect x="79.30" y="206.90" width="12.00" height="5.60" fill="rgb(176,176,176)"/>
<rect x="92.20" y="207.90" width="12.00" height="5.60" fill="rgb(184,184,184)"/>
<rect x="105.10" y="207.60" width="12.00" height="5.60" fill="rgb(174,174,174)"/>
<rect x="118.00" y="208.40" width="12.00" height="5.60" fill="rgb(185,185,185)"/>
<rect x="130.90" y="208.40" width="12.00" height="5.60" fill="rgb(171,171,171)"/>
<rect x="143.80" y="209.00" width="12.00" height="5.60" fill="rgb(185,185,185)"/>
</g>
<g filter="url(#b1)">
<rect x="54.20" y="207.25" width="10.60" height="2.50" fill="rgb(114,114,114)" rx="1.4" ry="1.25" transform="rotate(4.4 59.5 208.5)"/>
<rect x="67.10" y="208.25" width="10.60" height="2.50" fill="rgb(165,165,165)" rx="1.4" ry="1.25" transform="rotate(2.2 72.4 209.5)"/>
<rect x="80.00" y="208.25" width="10.60" height="2.50" fill="rgb(121,121,121)" rx="1.4" ry="1.25" transform="rotate(2.2 85.3 209.5)"/>
<rect x="92.90" y="209.25" width="10.60" height="2.50" fill="rgb(159,159,159)" rx="1.4" ry="1.25" transform="rotate(1.6 98.2 210.5)"/>
<rect x="105.80" y="208.95" width="10.60" height="2.50" fill="rgb(114,114,114)" rx="1.4" ry="1.25" transform="rotate(1.1 111.1 210.2)"/>
<rect x="118.70" y="209.75" width="10.60" height="2.50" fill="rgb(165,165,165)" rx="1.4" ry="1.25" transform="rotate(1.8 124.0 211.0)"/>
<rect x="131.60" y="209.75" width="10.60" height="2.50" fill="rgb(101,101,101)" rx="1.4" ry="1.25" transform="rotate(1.3 136.9 211.0)"/>
<rect x="144.50" y="210.35" width="10.60" height="2.50" fill="rgb(165,165,165)" rx="1.4" ry="1.25" transform="rotate(2.7 149.8 211.6)"/>
</g>
<g filter="url(#b1)">
<rect x="54.20" y="213.40" width="10.60" height="1.40" fill="rgb(184,184,184)" rx="1.4" ry="0.70" transform="rotate(2.2 59.5 214.1)"/>
<rect x="67.10" y="213.90" width="10.60" height="1.40" fill="rgb(177,177,177)" rx="1.4" ry="0.70" transform="rotate(2.2 72.4 214.6)"/>
<rect x="80.00" y="214.40" width="10.60" height="1.40" fill="rgb(184,184,184)" rx="1.4" ry="0.70" transform="rotate(2.2 85.3 215.1)"/>
<rect x="92.90" y="214.90" width="10.60" height="1.40" fill="rgb(177,177,177)" rx="1.4" ry="0.70" transform="rotate(1.6 98.2 215.6)"/>
<rect x="105.80" y="215.10" width="10.60" height="1.40" fill="rgb(184,184,184)" rx="1.4" ry="0.70" transform="rotate(1.1 111.1 215.8)"/>
<rect x="118.70" y="215.40" width="10.60" height="1.40" fill="rgb(177,177,177)" rx="1.4" ry="0.70" transform="rotate(1.1 124.0 216.1)"/>
<rect x="131.60" y="215.60" width="10.60" height="1.40" fill="rgb(184,184,184)" rx="1.4" ry="0.70" transform="rotate(0.4 136.9 216.3)"/>
<rect x="144.50" y="215.60" width="10.60" height="1.40" fill="rgb(177,177,177)" rx="1.4" ry="0.70"/>
</g>
<g filter="url(#b2)">
<rect x="53.70" y="218.02" width="11.60" height="1.95" fill="rgb(4,4,4)" rx="1.8" ry="0.98" transform="rotate(4.4 59.5 219.0)"/>
<rect x="66.60" y="219.02" width="11.60" height="1.95" fill="rgb(4,4,4)" rx="1.8" ry="0.98" transform="rotate(3.1 72.4 220.0)"/>
<rect x="79.50" y="219.42" width="11.60" height="1.95" fill="rgb(4,4,4)" rx="1.8" ry="0.98" transform="rotate(2.0 85.3 220.4)"/>
<rect x="92.40" y="219.92" width="11.60" height="1.95" fill="rgb(4,4,4)" rx="1.8" ry="0.98" transform="rotate(1.6 98.2 220.9)"/>
<rect x="105.30" y="220.12" width="11.60" height="1.95" fill="rgb(4,4,4)" rx="1.8" ry="0.98" transform="rotate(0.9 111.1 221.1)"/>
<rect x="118.20" y="220.32" width="11.60" height="1.95" fill="rgb(4,4,4)" rx="1.8" ry="0.98" transform="rotate(0.4 124.0 221.3)"/>
<rect x="131.10" y="220.32" width="11.60" height="1.95" fill="rgb(4,4,4)" rx="1.8" ry="0.98" transform="rotate(-0.4 136.9 221.3)"/>
<rect x="144.00" y="220.12" width="11.60" height="1.95" fill="rgb(4,4,4)" rx="1.8" ry="0.98" transform="rotate(-0.9 149.8 221.1)"/>
</g>
</g>
<text x="50.3" y="215.5" font-size="7.8" text-anchor="end" font-weight="bold" fill="#000" stroke="#000" stroke-width="0.22">HT29</text>
<text x="160.0" y="211.0" font-size="7.8" text-anchor="start" font-weight="bold" fill="#000" stroke="#000" stroke-width="0.22" textLength="24.8" lengthAdjust="spacingAndGlyphs">c-MYC</text>
<text x="160.0" y="220.9" font-size="7.8" text-anchor="start" font-weight="bold" fill="#000" stroke="#000" stroke-width="0.22" textLength="28.9" lengthAdjust="spacingAndGlyphs">β-Actin</text>
<clipPath id="cp3"><rect x="52.5" y="228.2" width="104.6" height="21.5"/></clipPath>
<g clip-path="url(#cp3)">
<rect x="52.50" y="228.20" width="104.60" height="21.50" fill="rgb(191,191,191)"/>
<rect x="52.50" y="228.20" width="104.60" height="0.80" fill="rgb(209,209,209)" opacity="0.7"/>
<rect x="52.50" y="248.80" width="104.60" height="0.90" fill="rgb(177,177,177)" opacity="0.7"/>
<g filter="url(#b3)">
<rect x="53.50" y="229.80" width="12.00" height="5.60" fill="rgb(183,183,183)"/>
<rect x="66.40" y="229.80" width="12.00" height="5.60" fill="rgb(184,184,184)"/>
<rect x="79.30" y="229.80" width="12.00" height="5.60" fill="rgb(183,183,183)"/>
<rect x="92.20" y="229.80" width="12.00" height="5.60" fill="rgb(184,184,184)"/>
<rect x="105.10" y="229.80" width="12.00" height="5.60" fill="rgb(181,181,181)"/>
<rect x="130.90" y="229.80" width="12.00" height="5.60" fill="rgb(176,176,176)"/>
<rect x="143.80" y="229.80" width="12.00" height="5.60" fill="rgb(178,178,178)"/>
</g>
<g filter="url(#b1)">
<rect x="54.20" y="231.20" width="10.60" height="2.40" fill="rgb(153,153,153)" rx="1.4" ry="1.20"/>
<rect x="67.10" y="231.20" width="10.60" height="2.40" fill="rgb(159,159,159)" rx="1.4" ry="1.20"/>
<rect x="80.00" y="231.20" width="10.60" height="2.40" fill="rgb(153,153,153)" rx="1.4" ry="1.20"/>
<rect x="92.90" y="231.20" width="10.60" height="2.40" fill="rgb(159,159,159)" rx="1.4" ry="1.20"/>
<rect x="105.80" y="231.20" width="10.60" height="2.40" fill="rgb(146,146,146)" rx="1.4" ry="1.20"/>
<rect x="118.70" y="231.20" width="10.60" height="2.40" fill="rgb(178,178,178)" rx="1.4" ry="1.20"/>
<rect x="131.60" y="231.20" width="10.60" height="2.40" fill="rgb(121,121,121)" rx="1.4" ry="1.20"/>
<rect x="144.50" y="231.20" width="10.60" height="2.40" fill="rgb(133,133,133)" rx="1.4" ry="1.20"/>
</g>
<g filter="url(#b1)">
<rect x="54.20" y="237.70" width="10.60" height="1.40" fill="rgb(183,183,183)" rx="1.4" ry="0.70"/>
<rect x="67.10" y="237.70" width="10.60" height="1.40" fill="rgb(183,183,183)" rx="1.4" ry="0.70"/>
<rect x="80.00" y="237.70" width="10.60" height="1.40" fill="rgb(183,183,183)" rx="1.4" ry="0.70"/>
<rect x="92.90" y="237.70" width="10.60" height="1.40" fill="rgb(183,183,183)" rx="1.4" ry="0.70"/>
<rect x="105.80" y="237.70" width="10.60" height="1.40" fill="rgb(183,183,183)" rx="1.4" ry="0.70"/>
<rect x="118.70" y="237.70" width="10.60" height="1.40" fill="rgb(183,183,183)" rx="1.4" ry="0.70"/>
<rect x="131.60" y="237.70" width="10.60" height="1.40" fill="rgb(183,183,183)" rx="1.4" ry="0.70"/>
<rect x="144.50" y="237.70" width="10.60" height="1.40" fill="rgb(183,183,183)" rx="1.4" ry="0.70"/>
</g>
<g filter="url(#b2)">
<rect x="53.70" y="242.86" width="11.60" height="1.87" fill="rgb(4,4,4)" rx="1.8" ry="0.94"/>
<rect x="66.60" y="242.86" width="11.60" height="1.87" fill="rgb(4,4,4)" rx="1.8" ry="0.94"/>
<rect x="79.50" y="242.86" width="11.60" height="1.87" fill="rgb(4,4,4)" rx="1.8" ry="0.94"/>
<rect x="92.40" y="242.86" width="11.60" height="1.87" fill="rgb(4,4,4)" rx="1.8" ry="0.94" transform="rotate(-0.9 98.2 243.8)"/>
<rect x="105.30" y="242.46" width="11.60" height="1.87" fill="rgb(4,4,4)" rx="1.8" ry="0.94"/>
<rect x="118.20" y="242.86" width="11.60" height="1.87" fill="rgb(4,4,4)" rx="1.8" ry="0.94" transform="rotate(1.6 124.0 243.8)"/>
<rect x="131.10" y="243.16" width="11.60" height="1.87" fill="rgb(4,4,4)" rx="1.8" ry="0.94" transform="rotate(0.7 136.9 244.1)"/>
<rect x="144.00" y="243.16" width="11.60" height="1.87" fill="rgb(4,4,4)" rx="1.8" ry="0.94"/>
</g>
</g>
<text x="50.3" y="241.7" font-size="7.8" text-anchor="end" font-weight="bold" fill="#000" stroke="#000" stroke-width="0.22">LIM1215</text>
<text x="160.0" y="234.8" font-size="7.8" text-anchor="start" font-weight="bold" fill="#000" stroke="#000" stroke-width="0.22" textLength="24.8" lengthAdjust="spacingAndGlyphs">c-MYC</text>
<text x="160.0" y="244.7" font-size="7.8" text-anchor="start" font-weight="bold" fill="#000" stroke="#000" stroke-width="0.22" textLength="28.9" lengthAdjust="spacingAndGlyphs">β-Actin</text>
<clipPath id="cp4"><rect x="52.5" y="254.2" width="104.6" height="21.5"/></clipPath>
<g clip-path="url(#cp4)">
<rect x="52.50" y="254.20" width="104.60" height="21.50" fill="rgb(191,191,191)"/>
<rect x="52.50" y="254.20" width="104.60" height="0.80" fill="rgb(209,209,209)" opacity="0.7"/>
<rect x="52.50" y="274.80" width="104.60" height="0.90" fill="rgb(177,177,177)" opacity="0.7"/>
<g filter="url(#b3)">
<rect x="53.50" y="255.40" width="12.00" height="5.60" fill="rgb(173,173,173)"/>
<rect x="66.40" y="255.40" width="12.00" height="5.60" fill="rgb(177,177,177)"/>
<rect x="79.30" y="255.40" width="12.00" height="5.60" fill="rgb(174,174,174)"/>
<rect x="92.20" y="255.40" width="12.00" height="5.60" fill="rgb(177,177,177)"/>
<rect x="105.10" y="255.40" width="12.00" height="5.60" fill="rgb(173,173,173)"/>
<rect x="118.00" y="255.40" width="12.00" height="5.60" fill="rgb(181,181,181)"/>
<rect x="130.90" y="255.70" width="12.00" height="5.60" fill="rgb(174,174,174)"/>
<rect x="143.80" y="254.50" width="12.00" height="5.60" fill="rgb(177,177,177)"/>
<rect x="130.90" y="258.20" width="12.00" height="5.60" fill="rgb(185,185,185)"/>
<rect x="143.80" y="258.20" width="12.00" height="5.60" fill="rgb(178,178,178)"/>
</g>
<g filter="url(#b1)">
<rect x="54.20" y="256.75" width="10.60" height="2.50" fill="rgb(108,108,108)" rx="1.4" ry="1.25"/>
<rect x="67.10" y="256.75" width="10.60" height="2.50" fill="rgb(127,127,127)" rx="1.4" ry="1.25"/>
<rect x="80.00" y="256.75" width="10.60" height="2.50" fill="rgb(114,114,114)" rx="1.4" ry="1.25"/>
<rect x="92.90" y="256.75" width="10.60" height="2.50" fill="rgb(127,127,127)" rx="1.4" ry="1.25"/>
<rect x="105.80" y="256.75" width="10.60" height="2.50" fill="rgb(108,108,108)" rx="1.4" ry="1.25"/>
<rect x="118.70" y="256.75" width="10.60" height="2.50" fill="rgb(146,146,146)" rx="1.4" ry="1.25" transform="rotate(0.7 124.0 258.0)"/>
<rect x="131.60" y="257.05" width="10.60" height="2.50" fill="rgb(114,114,114)" rx="1.4" ry="1.25" transform="rotate(-2.0 136.9 258.3)"/>
<rect x="144.50" y="255.85" width="10.60" height="2.50" fill="rgb(127,127,127)" rx="1.4" ry="1.25" transform="rotate(-5.3 149.8 257.1)"/>
</g>
<g filter="url(#b1)">
<rect x="54.20" y="260.00" width="10.60" height="1.60" fill="rgb(177,177,177)" rx="1.4" ry="0.80"/>
<rect x="67.10" y="260.00" width="10.60" height="1.60" fill="rgb(170,170,170)" rx="1.4" ry="0.80"/>
<rect x="80.00" y="260.00" width="10.60" height="1.60" fill="rgb(177,177,177)" rx="1.4" ry="0.80"/>
<rect x="92.90" y="260.00" width="10.60" height="1.60" fill="rgb(174,174,174)" rx="1.4" ry="0.80"/>
<rect x="105.80" y="260.00" width="10.60" height="1.60" fill="rgb(177,177,177)" rx="1.4" ry="0.80"/>
<rect x="118.70" y="260.00" width="10.60" height="1.60" fill="rgb(177,177,177)" rx="1.4" ry="0.80"/>
<rect x="131.60" y="260.00" width="10.60" height="1.60" fill="rgb(163,163,163)" rx="1.4" ry="0.80"/>
<rect x="144.50" y="260.00" width="10.60" height="1.60" fill="rgb(128,128,128)" rx="1.4" ry="0.80"/>
</g>
<g filter="url(#b1)">
<rect x="54.20" y="264.05" width="10.60" height="1.50" fill="rgb(171,171,171)" rx="1.4" ry="0.75"/>
<rect x="67.10" y="264.05" width="10.60" height="1.50" fill="rgb(174,174,174)" rx="1.4" ry="0.75"/>
<rect x="80.00" y="264.05" width="10.60" height="1.50" fill="rgb(174,174,174)" rx="1.4" ry="0.75"/>
<rect x="92.90" y="264.05" width="10.60" height="1.50" fill="rgb(177,177,177)" rx="1.4" ry="0.75"/>
<rect x="105.80" y="264.05" width="10.60" height="1.50" fill="rgb(174,174,174)" rx="1.4" ry="0.75"/>
<rect x="118.70" y="264.05" width="10.60" height="1.50" fill="rgb(177,177,177)" rx="1.4" ry="0.75"/>
<rect x="131.60" y="264.05" width="10.60" height="1.50" fill="rgb(174,174,174)" rx="1.4" ry="0.75"/>
<rect x="144.50" y="264.05" width="10.60" height="1.50" fill="rgb(171,171,171)" rx="1.4" ry="0.75"/>
</g>
<g filter="url(#b2)">
<rect x="53.70" y="269.52" width="11.60" height="1.95" fill="rgb(4,4,4)" rx="1.8" ry="0.98"/>
<rect x="66.60" y="269.52" width="11.60" height="1.95" fill="rgb(4,4,4)" rx="1.8" ry="0.98"/>
<rect x="79.50" y="269.52" width="11.60" height="1.95" fill="rgb(4,4,4)" rx="1.8" ry="0.98"/>
<rect x="92.40" y="269.52" width="11.60" height="1.95" fill="rgb(4,4,4)" rx="1.8" ry="0.98"/>
<rect x="105.30" y="269.52" width="11.60" height="1.95" fill="rgb(4,4,4)" rx="1.8" ry="0.98"/>
<rect x="118.20" y="269.52" width="11.60" height="1.95" fill="rgb(4,4,4)" rx="1.8" ry="0.98" transform="rotate(1.3 124.0 270.5)"/>
<rect x="131.10" y="270.12" width="11.60" height="1.95" fill="rgb(4,4,4)" rx="1.8" ry="0.98" transform="rotate(2.7 136.9 271.1)"/>
<rect x="144.00" y="270.72" width="11.60" height="1.95" fill="rgb(4,4,4)" rx="1.8" ry="0.98" transform="rotate(2.7 149.8 271.7)"/>
</g>
</g>
<text x="50.3" y="266.8" font-size="7.8" text-anchor="end" font-weight="bold" fill="#000" stroke="#000" stroke-width="0.22">KM12</text>
<text x="159.4" y="260.8" font-size="7.8" text-anchor="start" font-weight="bold" fill="#000" stroke="#000" stroke-width="0.22" textLength="24.8" lengthAdjust="spacingAndGlyphs">c-MYC</text>
<text x="159.4" y="270.7" font-size="7.8" text-anchor="start" font-weight="bold" fill="#000" stroke="#000" stroke-width="0.22" textLength="28.9" lengthAdjust="spacingAndGlyphs">β-Actin</text>
<clipPath id="cp5"><rect x="52.5" y="279.9" width="104.6" height="21.5"/></clipPath>
<g clip-path="url(#cp5)">
<rect x="52.50" y="279.90" width="104.60" height="21.50" fill="rgb(191,191,191)"/>
<rect x="52.50" y="279.90" width="104.60" height="0.80" fill="rgb(209,209,209)" opacity="0.7"/>
<rect x="52.50" y="300.50" width="104.60" height="0.90" fill="rgb(177,177,177)" opacity="0.7"/>
<g filter="url(#b3)">
<rect x="53.50" y="280.70" width="12.00" height="5.60" fill="rgb(167,167,167)"/>
<rect x="66.40" y="280.70" width="12.00" height="5.60" fill="rgb(170,170,170)"/>
<rect x="79.30" y="280.70" width="12.00" height="5.60" fill="rgb(170,170,170)"/>
<rect x="92.20" y="280.70" width="12.00" height="5.60" fill="rgb(169,169,169)"/>
<rect x="105.10" y="280.70" width="12.00" height="5.60" fill="rgb(167,167,167)"/>
<rect x="118.00" y="280.70" width="12.00" height="5.60" fill="rgb(169,169,169)"/>
<rect x="130.90" y="281.70" width="12.00" height="5.60" fill="rgb(166,166,166)"/>
<rect x="143.80" y="280.70" width="12.00" height="5.60" fill="rgb(174,174,174)"/>
<rect x="53.50" y="283.50" width="12.00" height="5.60" fill="rgb(169,169,169)"/>
<rect x="66.40" y="283.50" width="12.00" height="5.60" fill="rgb(171,171,171)"/>
<rect x="79.30" y="283.50" width="12.00" height="5.60" fill="rgb(170,170,170)"/>
<rect x="92.20" y="283.50" width="12.00" height="5.60" fill="rgb(170,170,170)"/>
<rect x="105.10" y="283.50" width="12.00" height="5.60" fill="rgb(169,169,169)"/>
<rect x="118.00" y="283.50" width="12.00" height="5.60" fill="rgb(170,170,170)"/>
<rect x="130.90" y="284.50" width="12.00" height="5.60" fill="rgb(170,170,170)"/>
<rect x="143.80" y="283.50" width="12.00" height="5.60" fill="rgb(174,174,174)"/>
<rect x="53.50" y="289.70" width="12.00" height="5.60" fill="rgb(185,185,185)"/>
<rect x="66.40" y="289.70" width="12.00" height="5.60" fill="rgb(184,184,184)"/>
<rect x="79.30" y="289.70" width="12.00" height="5.60" fill="rgb(185,185,185)"/>
<rect x="92.20" y="289.70" width="12.00" height="5.60" fill="rgb(183,183,183)"/>
<rect x="105.10" y="289.70" width="12.00" height="5.60" fill="rgb(184,184,184)"/>
<rect x="118.00" y="289.70" width="12.00" height="5.60" fill="rgb(184,184,184)"/>
<rect x="130.90" y="289.70" width="12.00" height="5.60" fill="rgb(185,185,185)"/>
</g>
<g filter="url(#b1)">
<rect x="54.20" y="282.00" width="10.60" height="2.60" fill="rgb(82,82,82)" rx="1.4" ry="1.30"/>
<rect x="67.10" y="282.00" width="10.60" height="2.60" fill="rgb(95,95,95)" rx="1.4" ry="1.30"/>
<rect x="80.00" y="282.00" width="10.60" height="2.60" fill="rgb(95,95,95)" rx="1.4" ry="1.30"/>
<rect x="92.90" y="282.00" width="10.60" height="2.60" fill="rgb(89,89,89)" rx="1.4" ry="1.30"/>
<rect x="105.80" y="282.00" width="10.60" height="2.60" fill="rgb(82,82,82)" rx="1.4" ry="1.30"/>
<rect x="118.70" y="282.00" width="10.60" height="2.60" fill="rgb(89,89,89)" rx="1.4" ry="1.30" transform="rotate(2.2 124.0 283.3)"/>
<rect x="131.60" y="283.00" width="10.60" height="2.60" fill="rgb(76,76,76)" rx="1.4" ry="1.30"/>
<rect x="144.50" y="282.00" width="10.60" height="2.60" fill="rgb(114,114,114)" rx="1.4" ry="1.30" transform="rotate(-4.4 149.8 283.3)"/>
</g>
<g filter="url(#b1)">
<rect x="54.20" y="285.00" width="10.60" height="2.20" fill="rgb(79,79,79)" rx="1.4" ry="1.10"/>
<rect x="67.10" y="285.00" width="10.60" height="2.20" fill="rgb(93,93,93)" rx="1.4" ry="1.10"/>
<rect x="80.00" y="285.00" width="10.60" height="2.20" fill="rgb(86,86,86)" rx="1.4" ry="1.10"/>
<rect x="92.90" y="285.00" width="10.60" height="2.20" fill="rgb(86,86,86)" rx="1.4" ry="1.10"/>
<rect x="105.80" y="285.00" width="10.60" height="2.20" fill="rgb(79,79,79)" rx="1.4" ry="1.10"/>
<rect x="118.70" y="285.00" width="10.60" height="2.20" fill="rgb(86,86,86)" rx="1.4" ry="1.10" transform="rotate(2.2 124.0 286.1)"/>
<rect x="131.60" y="286.00" width="10.60" height="2.20" fill="rgb(86,86,86)" rx="1.4" ry="1.10"/>
<rect x="144.50" y="285.00" width="10.60" height="2.20" fill="rgb(107,107,107)" rx="1.4" ry="1.10" transform="rotate(-4.4 149.8 286.1)"/>
</g>
<g filter="url(#b1)">
<rect x="54.20" y="291.50" width="10.60" height="1.60" fill="rgb(163,163,163)" rx="1.4" ry="0.80"/>
<rect x="67.10" y="291.50" width="10.60" height="1.60" fill="rgb(156,156,156)" rx="1.4" ry="0.80"/>
<rect x="80.00" y="291.50" width="10.60" height="1.60" fill="rgb(160,160,160)" rx="1.4" ry="0.80"/>
<rect x="92.90" y="291.50" width="10.60" height="1.60" fill="rgb(152,152,152)" rx="1.4" ry="0.80"/>
<rect x="105.80" y="291.50" width="10.60" height="1.60" fill="rgb(156,156,156)" rx="1.4" ry="0.80"/>
<rect x="118.70" y="291.50" width="10.60" height="1.60" fill="rgb(156,156,156)" rx="1.4" ry="0.80"/>
<rect x="131.60" y="291.50" width="10.60" height="1.60" fill="rgb(163,163,163)" rx="1.4" ry="0.80"/>
<rect x="144.50" y="291.50" width="10.60" height="1.60" fill="rgb(170,170,170)" rx="1.4" ry="0.80"/>
</g>
<g filter="url(#b2)">
<rect x="53.70" y="296.02" width="11.60" height="1.95" fill="rgb(4,4,4)" rx="1.8" ry="0.98"/>
<rect x="66.60" y="296.02" width="11.60" height="1.95" fill="rgb(4,4,4)" rx="1.8" ry="0.98"/>
<rect x="79.50" y="296.02" width="11.60" height="1.95" fill="rgb(4,4,4)" rx="1.8" ry="0.98"/>
<rect x="92.40" y="296.02" width="11.60" height="1.95" fill="rgb(4,4,4)" rx="1.8" ry="0.98"/>
<rect x="105.30" y="296.02" width="11.60" height="1.95" fill="rgb(4,4,4)" rx="1.8" ry="0.98"/>
<rect x="118.20" y="296.02" width="11.60" height="1.95" fill="rgb(4,4,4)" rx="1.8" ry="0.98" transform="rotate(0.7 124.0 297.0)"/>
<rect x="131.10" y="296.32" width="11.60" height="1.95" fill="rgb(4,4,4)" rx="1.8" ry="0.98" transform="rotate(0.7 136.9 297.3)"/>
<rect x="144.00" y="296.32" width="11.60" height="1.95" fill="rgb(4,4,4)" rx="1.8" ry="0.98"/>
</g>
</g>
<text x="50.3" y="292.0" font-size="7.8" text-anchor="end" font-weight="bold" fill="#000" stroke="#000" stroke-width="0.22">SW480</text>
<text x="160.0" y="286.6" font-size="7.8" text-anchor="start" font-weight="bold" fill="#000" stroke="#000" stroke-width="0.22" textLength="24.8" lengthAdjust="spacingAndGlyphs">c-MYC</text>
<text x="160.0" y="296.4" font-size="7.8" text-anchor="start" font-weight="bold" fill="#000" stroke="#000" stroke-width="0.22" textLength="28.9" lengthAdjust="spacingAndGlyphs">β-Actin</text>
<clipPath id="cp6"><rect x="52.5" y="305.1" width="104.6" height="21.5"/></clipPath>
<g clip-path="url(#cp6)">
<rect x="52.50" y="305.10" width="104.60" height="21.50" fill="rgb(191,191,191)"/>
<rect x="52.50" y="305.10" width="104.60" height="0.80" fill="rgb(209,209,209)" opacity="0.7"/>
<rect x="52.50" y="325.70" width="104.60" height="0.90" fill="rgb(177,177,177)" opacity="0.7"/>
<g filter="url(#b3)">
<rect x="53.50" y="311.20" width="12.00" height="5.60" fill="rgb(176,176,176)"/>
<rect x="66.40" y="311.60" width="12.00" height="5.60" fill="rgb(177,177,177)"/>
<rect x="79.30" y="310.60" width="12.00" height="5.60" fill="rgb(176,176,176)"/>
<rect x="92.20" y="309.70" width="12.00" height="5.60" fill="rgb(176,176,176)"/>
<rect x="105.10" y="308.70" width="12.00" height="5.60" fill="rgb(177,177,177)"/>
<rect x="118.00" y="308.00" width="12.00" height="5.60" fill="rgb(176,176,176)"/>
<rect x="130.90" y="307.60" width="12.00" height="5.60" fill="rgb(176,176,176)"/>
<rect x="143.80" y="308.00" width="12.00" height="5.60" fill="rgb(180,180,180)"/>
</g>
<g filter="url(#b1)">
<rect x="54.20" y="312.50" width="10.60" height="2.60" fill="rgb(121,121,121)" rx="1.4" ry="1.30" transform="rotate(1.8 59.5 313.8)"/>
<rect x="67.10" y="312.90" width="10.60" height="2.60" fill="rgb(127,127,127)" rx="1.4" ry="1.30" transform="rotate(-1.3 72.4 314.2)"/>
<rect x="80.00" y="311.90" width="10.60" height="2.60" fill="rgb(121,121,121)" rx="1.4" ry="1.30" transform="rotate(-4.2 85.3 313.2)"/>
<rect x="92.90" y="311.00" width="10.60" height="2.60" fill="rgb(121,121,121)" rx="1.4" ry="1.30" transform="rotate(-4.2 98.2 312.3)"/>
<rect x="105.80" y="310.00" width="10.60" height="2.60" fill="rgb(127,127,127)" rx="1.4" ry="1.30" transform="rotate(-3.8 111.1 311.3)"/>
<rect x="118.70" y="309.30" width="10.60" height="2.60" fill="rgb(121,121,121)" rx="1.4" ry="1.30" transform="rotate(-2.4 124.0 310.6)"/>
<rect x="131.60" y="308.90" width="10.60" height="2.60" fill="rgb(121,121,121)" rx="1.4" ry="1.30"/>
<rect x="144.50" y="309.30" width="10.60" height="2.60" fill="rgb(140,140,140)" rx="1.4" ry="1.30" transform="rotate(1.8 149.8 310.6)"/>
</g>
<g filter="url(#b2)">
<rect x="53.70" y="323.04" width="11.60" height="1.53" fill="rgb(23,23,23)" rx="1.8" ry="0.77" transform="rotate(1.8 59.5 323.8)"/>
<rect x="66.60" y="323.44" width="11.60" height="1.53" fill="rgb(23,23,23)" rx="1.8" ry="0.77" transform="rotate(-0.4 72.4 324.2)"/>
<rect x="79.50" y="322.84" width="11.60" height="1.53" fill="rgb(23,23,23)" rx="1.8" ry="0.77" transform="rotate(-2.2 85.3 323.6)"/>
<rect x="92.40" y="322.44" width="11.60" height="1.53" fill="rgb(23,23,23)" rx="1.8" ry="0.77" transform="rotate(-2.4 98.2 323.2)"/>
<rect x="105.30" y="321.74" width="11.60" height="1.53" fill="rgb(23,23,23)" rx="1.8" ry="0.77" transform="rotate(-2.4 111.1 322.5)"/>
<rect x="118.20" y="321.34" width="11.60" height="1.53" fill="rgb(23,23,23)" rx="1.8" ry="0.77" transform="rotate(-0.9 124.0 322.1)"/>
<rect x="131.10" y="321.34" width="11.60" height="1.53" fill="rgb(23,23,23)" rx="1.8" ry="0.77" transform="rotate(-0.9 136.9 322.1)"/>
<rect x="144.00" y="320.94" width="11.60" height="1.53" fill="rgb(23,23,23)" rx="1.8" ry="0.77" transform="rotate(-1.8 149.8 321.7)"/>
</g>
</g>
<text x="50.3" y="317.6" font-size="7.8" text-anchor="end" font-weight="bold" fill="#000" stroke="#000" stroke-width="0.22">HuTu80</text>
<text x="160.0" y="312.4" font-size="7.8" text-anchor="start" font-weight="bold" fill="#000" stroke="#000" stroke-width="0.22" textLength="24.8" lengthAdjust="spacingAndGlyphs">c-MYC</text>
<text x="160.0" y="322.1" font-size="7.8" text-anchor="start" font-weight="bold" fill="#000" stroke="#000" stroke-width="0.22" textLength="28.9" lengthAdjust="spacingAndGlyphs">β-Actin</text>
</g>
<g id="panelD" filter="url(#soft)">
<text x="191.2" y="162.0" font-size="13.5" text-anchor="start" font-weight="bold" fill="#000" stroke="#000" stroke-width="0.22" textLength="9.1" lengthAdjust="spacingAndGlyphs">D</text>
<text x="247.5" y="165.7" font-size="8.0" text-anchor="end" font-weight="bold" fill="#000" stroke="#000" stroke-width="0.22" textLength="42.5" lengthAdjust="spacingAndGlyphs">500 nmol/L</text>
<text x="247.5" y="175.8" font-size="8.0" text-anchor="end" font-weight="bold" fill="#000" stroke="#000" stroke-width="0.22" textLength="35" lengthAdjust="spacingAndGlyphs">I-BET151</text>
<text x="262.8" y="166.5" font-size="7.4" text-anchor="middle" font-weight="bold" fill="#000" stroke="#000" stroke-width="0.22">2 h</text>
<text x="286.8" y="166.5" font-size="7.4" text-anchor="middle" font-weight="bold" fill="#000" stroke="#000" stroke-width="0.22">4 h</text>
<text x="310.9" y="166.5" font-size="7.4" text-anchor="middle" font-weight="bold" fill="#000" stroke="#000" stroke-width="0.22">8 h</text>
<text x="337.6" y="166.5" font-size="7.4" text-anchor="middle" font-weight="bold" fill="#000" stroke="#000" stroke-width="0.22">24 h</text>
<line x1="254.20" y1="173.30" x2="257.60" y2="173.30" stroke="#000" stroke-width="1.1"/>
<line x1="265.50" y1="173.30" x2="268.90" y2="173.30" stroke="#000" stroke-width="1.1"/>
<line x1="267.20" y1="171.50" x2="267.20" y2="175.10" stroke="#000" stroke-width="1.1"/>
<line x1="280.50" y1="173.30" x2="283.90" y2="173.30" stroke="#000" stroke-width="1.1"/>
<line x1="291.30" y1="173.30" x2="294.70" y2="173.30" stroke="#000" stroke-width="1.1"/>
<line x1="293.00" y1="171.50" x2="293.00" y2="175.10" stroke="#000" stroke-width="1.1"/>
<line x1="306.30" y1="173.30" x2="309.70" y2="173.30" stroke="#000" stroke-width="1.1"/>
<line x1="317.50" y1="173.30" x2="320.90" y2="173.30" stroke="#000" stroke-width="1.1"/>
<line x1="319.20" y1="171.50" x2="319.20" y2="175.10" stroke="#000" stroke-width="1.1"/>
<line x1="331.00" y1="173.30" x2="334.40" y2="173.30" stroke="#000" stroke-width="1.1"/>
<line x1="341.10" y1="173.30" x2="344.50" y2="173.30" stroke="#000" stroke-width="1.1"/>
<line x1="342.80" y1="171.50" x2="342.80" y2="175.10" stroke="#000" stroke-width="1.1"/>
<clipPath id="cp7"><rect x="248.4" y="177.9" width="104.6" height="21.5"/></clipPath>
<g clip-path="url(#cp7)">
<rect x="248.40" y="177.90" width="104.60" height="21.50" fill="rgb(191,191,191)"/>
<rect x="248.40" y="177.90" width="104.60" height="0.80" fill="rgb(209,209,209)" opacity="0.7"/>
<rect x="248.40" y="198.50" width="104.60" height="0.90" fill="rgb(177,177,177)" opacity="0.7"/>
<g filter="url(#b3)">
<rect x="250.20" y="179.50" width="11.80" height="5.60" fill="rgb(182,182,182)"/>
<rect x="262.92" y="179.50" width="11.80" height="5.60" fill="rgb(184,184,184)"/>
<rect x="275.64" y="179.50" width="11.80" height="5.60" fill="rgb(183,183,183)"/>
<rect x="288.36" y="179.50" width="11.80" height="5.60" fill="rgb(185,185,185)"/>
<rect x="301.08" y="179.90" width="11.80" height="5.60" fill="rgb(178,178,178)"/>
<rect x="313.80" y="180.50" width="11.80" height="5.60" fill="rgb(183,183,183)"/>
<rect x="326.52" y="181.00" width="11.80" height="5.60" fill="rgb(181,181,181)"/>
<rect x="339.24" y="181.00" width="11.80" height="5.60" fill="rgb(185,185,185)"/>
</g>
<g filter="url(#b1)">
<rect x="250.90" y="180.95" width="10.40" height="2.30" fill="rgb(149,149,149)" rx="1.4" ry="1.15"/>
<rect x="263.62" y="180.95" width="10.40" height="2.30" fill="rgb(158,158,158)" rx="1.4" ry="1.15"/>
<rect x="276.34" y="180.95" width="10.40" height="2.30" fill="rgb(153,153,153)" rx="1.4" ry="1.15"/>
<rect x="289.06" y="180.95" width="10.40" height="2.30" fill="rgb(163,163,163)" rx="1.4" ry="1.15" transform="rotate(0.9 294.3 182.1)"/>
<rect x="301.78" y="181.35" width="10.40" height="2.30" fill="rgb(130,130,130)" rx="1.4" ry="1.15" transform="rotate(2.3 307.0 182.5)"/>
<rect x="314.50" y="181.95" width="10.40" height="2.30" fill="rgb(156,156,156)" rx="1.4" ry="1.15" transform="rotate(2.5 319.7 183.1)"/>
<rect x="327.22" y="182.45" width="10.40" height="2.30" fill="rgb(145,145,145)" rx="1.4" ry="1.15" transform="rotate(1.1 332.4 183.6)"/>
<rect x="339.94" y="182.45" width="10.40" height="2.30" fill="rgb(165,165,165)" rx="1.4" ry="1.15"/>
</g>
<g filter="url(#b1)">
<rect x="250.90" y="188.70" width="10.40" height="1.40" fill="rgb(183,183,183)" rx="1.4" ry="0.70"/>
<rect x="263.62" y="188.70" width="10.40" height="1.40" fill="rgb(183,183,183)" rx="1.4" ry="0.70"/>
<rect x="276.34" y="188.70" width="10.40" height="1.40" fill="rgb(183,183,183)" rx="1.4" ry="0.70"/>
<rect x="289.06" y="188.70" width="10.40" height="1.40" fill="rgb(183,183,183)" rx="1.4" ry="0.70"/>
<rect x="301.78" y="188.70" width="10.40" height="1.40" fill="rgb(177,177,177)" rx="1.4" ry="0.70"/>
<rect x="314.50" y="188.70" width="10.40" height="1.40" fill="rgb(180,180,180)" rx="1.4" ry="0.70"/>
<rect x="327.22" y="188.70" width="10.40" height="1.40" fill="rgb(174,174,174)" rx="1.4" ry="0.70"/>
<rect x="339.94" y="188.70" width="10.40" height="1.40" fill="rgb(183,183,183)" rx="1.4" ry="0.70"/>
</g>
<g filter="url(#b2)">
<rect x="250.40" y="194.32" width="11.40" height="1.95" fill="rgb(4,4,4)" rx="1.8" ry="0.98"/>
<rect x="263.12" y="194.32" width="11.40" height="1.95" fill="rgb(4,4,4)" rx="1.8" ry="0.98"/>
<rect x="275.84" y="194.32" width="11.40" height="1.95" fill="rgb(4,4,4)" rx="1.8" ry="0.98"/>
<rect x="288.56" y="194.32" width="11.40" height="1.95" fill="rgb(4,4,4)" rx="1.8" ry="0.98"/>
<rect x="301.28" y="194.32" width="11.40" height="1.95" fill="rgb(4,4,4)" rx="1.8" ry="0.98" transform="rotate(0.9 307.0 195.3)"/>
<rect x="314.00" y="194.72" width="11.40" height="1.95" fill="rgb(4,4,4)" rx="1.8" ry="0.98" transform="rotate(2.3 319.7 195.7)"/>
<rect x="326.72" y="195.32" width="11.40" height="1.95" fill="rgb(4,4,4)" rx="1.8" ry="0.98" transform="rotate(2.0 332.4 196.3)"/>
<rect x="339.44" y="195.62" width="11.40" height="1.95" fill="rgb(4,4,4)" rx="1.8" ry="0.98" transform="rotate(1.4 345.1 196.6)"/>
</g>
</g>
<text x="245.9" y="191.7" font-size="7.8" text-anchor="end" font-weight="bold" fill="#000" stroke="#000" stroke-width="0.22">GP5D</text>
<text x="355.6" y="184.3" font-size="7.8" text-anchor="start" font-weight="bold" fill="#000" stroke="#000" stroke-width="0.22" textLength="24.6" lengthAdjust="spacingAndGlyphs">c-MYC</text>
<text x="355.6" y="194.1" font-size="7.8" text-anchor="start" font-weight="bold" fill="#000" stroke="#000" stroke-width="0.22" textLength="27.6" lengthAdjust="spacingAndGlyphs">β-Actin</text>
<clipPath id="cp8"><rect x="248.4" y="203.3" width="104.6" height="21.5"/></clipPath>
<g clip-path="url(#cp8)">
<rect x="248.40" y="203.30" width="104.60" height="21.50" fill="rgb(191,191,191)"/>
<rect x="248.40" y="203.30" width="104.60" height="0.80" fill="rgb(209,209,209)" opacity="0.7"/>
<rect x="248.40" y="223.90" width="104.60" height="0.90" fill="rgb(177,177,177)" opacity="0.7"/>
<g filter="url(#b3)">
<rect x="250.20" y="205.10" width="11.80" height="5.60" fill="rgb(180,180,180)"/>
<rect x="262.92" y="205.10" width="11.80" height="5.60" fill="rgb(181,181,181)"/>
<rect x="275.64" y="205.10" width="11.80" height="5.60" fill="rgb(177,177,177)"/>
<rect x="288.36" y="205.10" width="11.80" height="5.60" fill="rgb(181,181,181)"/>
<rect x="301.08" y="204.50" width="11.80" height="5.60" fill="rgb(170,170,170)"/>
<rect x="313.80" y="205.10" width="11.80" height="5.60" fill="rgb(180,180,180)"/>
<rect x="326.52" y="204.70" width="11.80" height="5.60" fill="rgb(171,171,171)"/>
<rect x="339.24" y="205.10" width="11.80" height="5.60" fill="rgb(183,183,183)"/>
<rect x="262.92" y="202.10" width="11.80" height="5.60" fill="rgb(184,184,184)"/>
<rect x="250.20" y="211.90" width="11.80" height="5.60" fill="rgb(181,181,181)"/>
<rect x="262.92" y="211.90" width="11.80" height="5.60" fill="rgb(183,183,183)"/>
<rect x="275.64" y="211.90" width="11.80" height="5.60" fill="rgb(180,180,180)"/>
<rect x="288.36" y="211.90" width="11.80" height="5.60" fill="rgb(183,183,183)"/>
<rect x="301.08" y="211.90" width="11.80" height="5.60" fill="rgb(178,178,178)"/>
<rect x="313.80" y="211.90" width="11.80" height="5.60" fill="rgb(181,181,181)"/>
<rect x="326.52" y="211.90" width="11.80" height="5.60" fill="rgb(180,180,180)"/>
<rect x="339.24" y="211.90" width="11.80" height="5.60" fill="rgb(184,184,184)"/>
</g>
<g filter="url(#b1)">
<rect x="250.90" y="206.50" width="10.40" height="2.40" fill="rgb(140,140,140)" rx="1.4" ry="1.20"/>
<rect x="263.62" y="206.50" width="10.40" height="2.40" fill="rgb(146,146,146)" rx="1.4" ry="1.20"/>
<rect x="276.34" y="206.50" width="10.40" height="2.40" fill="rgb(127,127,127)" rx="1.4" ry="1.20"/>
<rect x="289.06" y="206.50" width="10.40" height="2.40" fill="rgb(146,146,146)" rx="1.4" ry="1.20" transform="rotate(-1.4 294.3 207.7)"/>
<rect x="301.78" y="205.90" width="10.40" height="2.40" fill="rgb(95,95,95)" rx="1.4" ry="1.20"/>
<rect x="314.50" y="206.50" width="10.40" height="2.40" fill="rgb(140,140,140)" rx="1.4" ry="1.20" transform="rotate(0.5 319.7 207.7)"/>
<rect x="327.22" y="206.10" width="10.40" height="2.40" fill="rgb(101,101,101)" rx="1.4" ry="1.20"/>
<rect x="339.94" y="206.50" width="10.40" height="2.40" fill="rgb(153,153,153)" rx="1.4" ry="1.20" transform="rotate(1.8 345.1 207.7)"/>
</g>
<g filter="url(#b1)">
<rect x="250.90" y="203.90" width="10.40" height="1.60" fill="rgb(184,184,184)" rx="1.4" ry="0.80"/>
<rect x="263.62" y="203.90" width="10.40" height="1.60" fill="rgb(156,156,156)" rx="1.4" ry="0.80"/>
<rect x="276.34" y="203.90" width="10.40" height="1.60" fill="rgb(184,184,184)" rx="1.4" ry="0.80"/>
<rect x="289.06" y="203.90" width="10.40" height="1.60" fill="rgb(184,184,184)" rx="1.4" ry="0.80"/>
<rect x="301.78" y="203.90" width="10.40" height="1.60" fill="rgb(184,184,184)" rx="1.4" ry="0.80"/>
<rect x="314.50" y="203.90" width="10.40" height="1.60" fill="rgb(184,184,184)" rx="1.4" ry="0.80"/>
<rect x="327.22" y="203.90" width="10.40" height="1.60" fill="rgb(184,184,184)" rx="1.4" ry="0.80"/>
<rect x="339.94" y="203.90" width="10.40" height="1.60" fill="rgb(184,184,184)" rx="1.4" ry="0.80"/>
</g>
<g filter="url(#b1)">
<rect x="250.90" y="213.70" width="10.40" height="1.60" fill="rgb(142,142,142)" rx="1.4" ry="0.80"/>
<rect x="263.62" y="213.70" width="10.40" height="1.60" fill="rgb(149,149,149)" rx="1.4" ry="0.80"/>
<rect x="276.34" y="213.70" width="10.40" height="1.60" fill="rgb(135,135,135)" rx="1.4" ry="0.80"/>
<rect x="289.06" y="213.70" width="10.40" height="1.60" fill="rgb(149,149,149)" rx="1.4" ry="0.80"/>
<rect x="301.78" y="213.70" width="10.40" height="1.60" fill="rgb(128,128,128)" rx="1.4" ry="0.80"/>
<rect x="314.50" y="213.70" width="10.40" height="1.60" fill="rgb(142,142,142)" rx="1.4" ry="0.80"/>
<rect x="327.22" y="213.70" width="10.40" height="1.60" fill="rgb(135,135,135)" rx="1.4" ry="0.80"/>
<rect x="339.94" y="213.70" width="10.40" height="1.60" fill="rgb(156,156,156)" rx="1.4" ry="0.80"/>
</g>
<g filter="url(#b2)">
<rect x="250.40" y="218.98" width="11.40" height="2.04" fill="rgb(4,4,4)" rx="1.8" ry="1.02"/>
<rect x="263.12" y="218.98" width="11.40" height="2.04" fill="rgb(4,4,4)" rx="1.8" ry="1.02"/>
<rect x="275.84" y="218.98" width="11.40" height="2.04" fill="rgb(4,4,4)" rx="1.8" ry="1.02"/>
<rect x="288.56" y="218.98" width="11.40" height="2.04" fill="rgb(4,4,4)" rx="1.8" ry="1.02"/>
<rect x="301.28" y="218.98" width="11.40" height="2.04" fill="rgb(4,4,4)" rx="1.8" ry="1.02"/>
<rect x="314.00" y="218.98" width="11.40" height="2.04" fill="rgb(4,4,4)" rx="1.8" ry="1.02"/>
<rect x="326.72" y="218.98" width="11.40" height="2.04" fill="rgb(4,4,4)" rx="1.8" ry="1.02"/>
<rect x="339.44" y="218.98" width="11.40" height="2.04" fill="rgb(4,4,4)" rx="1.8" ry="1.02"/>
</g>
</g>
<text x="245.9" y="216.0" font-size="7.8" text-anchor="end" font-weight="bold" fill="#000" stroke="#000" stroke-width="0.22">HT29</text>
<text x="355.6" y="211.9" font-size="7.8" text-anchor="start" font-weight="bold" fill="#000" stroke="#000" stroke-width="0.22" textLength="24.6" lengthAdjust="spacingAndGlyphs">c-MYC</text>
<text x="355.6" y="221.7" font-size="7.8" text-anchor="start" font-weight="bold" fill="#000" stroke="#000" stroke-width="0.22" textLength="27.6" lengthAdjust="spacingAndGlyphs">β-Actin</text>
<clipPath id="cp9"><rect x="248.4" y="228.2" width="104.6" height="21.5"/></clipPath>
<g clip-path="url(#cp9)">
<rect x="248.40" y="228.20" width="104.60" height="21.50" fill="rgb(191,191,191)"/>
<rect x="248.40" y="228.20" width="104.60" height="0.80" fill="rgb(209,209,209)" opacity="0.7"/>
<rect x="248.40" y="248.80" width="104.60" height="0.90" fill="rgb(177,177,177)" opacity="0.7"/>
<g filter="url(#b3)">
<rect x="250.20" y="231.40" width="11.80" height="5.60" fill="rgb(178,178,178)"/>
<rect x="262.92" y="231.60" width="11.80" height="5.60" fill="rgb(184,184,184)"/>
<rect x="275.64" y="231.60" width="11.80" height="5.60" fill="rgb(180,180,180)"/>
<rect x="301.08" y="230.40" width="11.80" height="5.60" fill="rgb(177,177,177)"/>
<rect x="313.80" y="228.90" width="11.80" height="5.60" fill="rgb(185,185,185)"/>
<rect x="326.52" y="228.40" width="11.80" height="5.60" fill="rgb(176,176,176)"/>
</g>
<g filter="url(#b1)">
<rect x="250.90" y="232.90" width="10.40" height="2.20" fill="rgb(133,133,133)" rx="1.4" ry="1.10" transform="rotate(0.9 256.1 234.0)"/>
<rect x="263.62" y="233.10" width="10.40" height="2.20" fill="rgb(159,159,159)" rx="1.4" ry="1.10" transform="rotate(0.5 268.8 234.2)"/>
<rect x="276.34" y="233.10" width="10.40" height="2.20" fill="rgb(140,140,140)" rx="1.4" ry="1.10" transform="rotate(-0.5 281.5 234.2)"/>
<rect x="289.06" y="232.90" width="10.40" height="2.20" fill="rgb(172,172,172)" rx="1.4" ry="1.10" transform="rotate(-2.7 294.3 234.0)"/>
<rect x="301.78" y="231.90" width="10.40" height="2.20" fill="rgb(127,127,127)" rx="1.4" ry="1.10" transform="rotate(-5.6 307.0 233.0)"/>
<rect x="314.50" y="230.40" width="10.40" height="2.20" fill="rgb(165,165,165)" rx="1.4" ry="1.10" transform="rotate(-4.5 319.7 231.5)"/>
<rect x="327.22" y="229.90" width="10.40" height="2.20" fill="rgb(121,121,121)" rx="1.4" ry="1.10" transform="rotate(-1.1 332.4 231.0)"/>
<rect x="339.94" y="229.90" width="10.40" height="2.20" fill="rgb(172,172,172)" rx="1.4" ry="1.10"/>
</g>
<g filter="url(#b1)">
<rect x="250.90" y="239.50" width="10.40" height="1.40" fill="rgb(180,180,180)" rx="1.4" ry="0.70" transform="rotate(0.9 256.1 240.2)"/>
<rect x="263.62" y="239.70" width="10.40" height="1.40" fill="rgb(183,183,183)" rx="1.4" ry="0.70" transform="rotate(0.5 268.8 240.4)"/>
<rect x="276.34" y="239.70" width="10.40" height="1.40" fill="rgb(180,180,180)" rx="1.4" ry="0.70" transform="rotate(-0.5 281.5 240.4)"/>
<rect x="289.06" y="239.50" width="10.40" height="1.40" fill="rgb(184,184,184)" rx="1.4" ry="0.70" transform="rotate(-2.7 294.3 240.2)"/>
<rect x="301.78" y="238.50" width="10.40" height="1.40" fill="rgb(183,183,183)" rx="1.4" ry="0.70" transform="rotate(-4.5 307.0 239.2)"/>
<rect x="314.50" y="237.50" width="10.40" height="1.40" fill="rgb(184,184,184)" rx="1.4" ry="0.70" transform="rotate(-3.4 319.7 238.2)"/>
<rect x="327.22" y="237.00" width="10.40" height="1.40" fill="rgb(180,180,180)" rx="1.4" ry="0.70" transform="rotate(-1.1 332.4 237.7)"/>
<rect x="339.94" y="237.00" width="10.40" height="1.40" fill="rgb(184,184,184)" rx="1.4" ry="0.70"/>
</g>
<g filter="url(#b2)">
<rect x="250.40" y="245.62" width="11.40" height="1.95" fill="rgb(4,4,4)" rx="1.8" ry="0.98" transform="rotate(0.9 256.1 246.6)"/>
<rect x="263.12" y="245.82" width="11.40" height="1.95" fill="rgb(4,4,4)" rx="1.8" ry="0.98" transform="rotate(0.5 268.8 246.8)"/>
<rect x="275.84" y="245.82" width="11.40" height="1.95" fill="rgb(4,4,4)" rx="1.8" ry="0.98" transform="rotate(-0.9 281.5 246.8)"/>
<rect x="288.56" y="245.42" width="11.40" height="1.95" fill="rgb(4,4,4)" rx="1.8" ry="0.98" transform="rotate(-2.7 294.3 246.4)"/>
<rect x="301.28" y="244.62" width="11.40" height="1.95" fill="rgb(4,4,4)" rx="1.8" ry="0.98" transform="rotate(-3.8 307.0 245.6)"/>
<rect x="314.00" y="243.72" width="11.40" height="1.95" fill="rgb(4,4,4)" rx="1.8" ry="0.98" transform="rotate(-2.9 319.7 244.7)"/>
<rect x="326.72" y="243.32" width="11.40" height="1.95" fill="rgb(4,4,4)" rx="1.8" ry="0.98" transform="rotate(-1.4 332.4 244.3)"/>
<rect x="339.44" y="243.12" width="11.40" height="1.95" fill="rgb(4,4,4)" rx="1.8" ry="0.98" transform="rotate(-0.9 345.1 244.1)"/>
</g>
</g>
<text x="245.9" y="241.85" font-size="7.8" text-anchor="end" font-weight="bold" fill="#000" stroke="#000" stroke-width="0.22">LIM1215</text>
<text x="355.6" y="235.7" font-size="7.8" text-anchor="start" font-weight="bold" fill="#000" stroke="#000" stroke-width="0.22" textLength="24.6" lengthAdjust="spacingAndGlyphs">c-MYC</text>
<text x="355.6" y="245.5" font-size="7.8" text-anchor="start" font-weight="bold" fill="#000" stroke="#000" stroke-width="0.22" textLength="27.6" lengthAdjust="spacingAndGlyphs">β-Actin</text>
<clipPath id="cp10"><rect x="248.4" y="254.2" width="104.6" height="21.5"/></clipPath>
<g clip-path="url(#cp10)">
<rect x="248.40" y="254.20" width="104.60" height="21.50" fill="rgb(191,191,191)"/>
<rect x="248.40" y="254.20" width="104.60" height="0.80" fill="rgb(209,209,209)" opacity="0.7"/>
<rect x="248.40" y="274.80" width="104.60" height="0.90" fill="rgb(177,177,177)" opacity="0.7"/>
<g filter="url(#b3)">
<rect x="250.20" y="259.40" width="11.80" height="5.60" fill="rgb(180,180,180)"/>
<rect x="262.92" y="259.00" width="11.80" height="5.60" fill="rgb(173,173,173)"/>
<rect x="275.64" y="257.70" width="11.80" height="5.60" fill="rgb(180,180,180)"/>
<rect x="288.36" y="256.90" width="11.80" height="5.60" fill="rgb(181,181,181)"/>
<rect x="301.08" y="256.20" width="11.80" height="5.60" fill="rgb(180,180,180)"/>
<rect x="313.80" y="256.20" width="11.80" height="5.60" fill="rgb(181,181,181)"/>
<rect x="326.52" y="256.20" width="11.80" height="5.60" fill="rgb(180,180,180)"/>
<rect x="339.24" y="257.30" width="11.80" height="5.60" fill="rgb(181,181,181)"/>
<rect x="250.20" y="264.80" width="11.80" height="5.60" fill="rgb(185,185,185)"/>
<rect x="262.92" y="265.20" width="11.80" height="5.60" fill="rgb(178,178,178)"/>
<rect x="275.64" y="264.40" width="11.80" height="5.60" fill="rgb(185,185,185)"/>
</g>
<g filter="url(#b1)">
<rect x="250.90" y="260.70" width="10.40" height="2.60" fill="rgb(140,140,140)" rx="1.4" ry="1.30" transform="rotate(-1.8 256.1 262.0)"/>
<rect x="263.62" y="260.30" width="10.40" height="2.60" fill="rgb(108,108,108)" rx="1.4" ry="1.30" transform="rotate(-3.8 268.8 261.6)"/>
<rect x="276.34" y="259.00" width="10.40" height="2.60" fill="rgb(140,140,140)" rx="1.4" ry="1.30" transform="rotate(-4.7 281.5 260.3)"/>
<rect x="289.06" y="258.20" width="10.40" height="2.60" fill="rgb(146,146,146)" rx="1.4" ry="1.30" transform="rotate(-3.4 294.3 259.5)"/>
<rect x="301.78" y="257.50" width="10.40" height="2.60" fill="rgb(140,140,140)" rx="1.4" ry="1.30" transform="rotate(-1.6 307.0 258.8)"/>
<rect x="314.50" y="257.50" width="10.40" height="2.60" fill="rgb(146,146,146)" rx="1.4" ry="1.30"/>
<rect x="327.22" y="257.50" width="10.40" height="2.60" fill="rgb(140,140,140)" rx="1.4" ry="1.30" transform="rotate(2.5 332.4 258.8)"/>
<rect x="339.94" y="258.60" width="10.40" height="2.60" fill="rgb(146,146,146)" rx="1.4" ry="1.30" transform="rotate(4.9 345.1 259.9)"/>
</g>
<g filter="url(#b1)">
<rect x="250.90" y="266.55" width="10.40" height="1.70" fill="rgb(163,163,163)" rx="1.4" ry="0.85" transform="rotate(1.8 256.1 267.4)"/>
<rect x="263.62" y="266.95" width="10.40" height="1.70" fill="rgb(128,128,128)" rx="1.4" ry="0.85" transform="rotate(-0.9 268.8 267.8)"/>
<rect x="276.34" y="266.15" width="10.40" height="1.70" fill="rgb(163,163,163)" rx="1.4" ry="0.85" transform="rotate(-4.3 281.5 267.0)"/>
<rect x="289.06" y="265.05" width="10.40" height="1.70" fill="rgb(170,170,170)" rx="1.4" ry="0.85" transform="rotate(-4.7 294.3 265.9)"/>
<rect x="301.78" y="264.05" width="10.40" height="1.70" fill="rgb(170,170,170)" rx="1.4" ry="0.85" transform="rotate(-2.3 307.0 264.9)"/>
<rect x="314.50" y="264.05" width="10.40" height="1.70" fill="rgb(174,174,174)" rx="1.4" ry="0.85"/>
<rect x="327.22" y="264.05" width="10.40" height="1.70" fill="rgb(177,177,177)" rx="1.4" ry="0.85" transform="rotate(1.1 332.4 264.9)"/>
<rect x="339.94" y="264.55" width="10.40" height="1.70" fill="rgb(177,177,177)" rx="1.4" ry="0.85" transform="rotate(2.3 345.1 265.4)"/>
</g>
<g filter="url(#b2)">
<rect x="250.40" y="271.14" width="11.40" height="2.12" fill="rgb(4,4,4)" rx="1.8" ry="1.06" transform="rotate(-1.8 256.1 272.2)"/>
<rect x="263.12" y="270.74" width="11.40" height="2.12" fill="rgb(4,4,4)" rx="1.8" ry="1.06" transform="rotate(-3.8 268.8 271.8)"/>
<rect x="275.84" y="269.44" width="11.40" height="2.12" fill="rgb(4,4,4)" rx="1.8" ry="1.06" transform="rotate(-4.7 281.5 270.5)"/>
<rect x="288.56" y="268.64" width="11.40" height="2.12" fill="rgb(4,4,4)" rx="1.8" ry="1.06" transform="rotate(-3.4 294.3 269.7)"/>
<rect x="301.28" y="267.94" width="11.40" height="2.12" fill="rgb(4,4,4)" rx="1.8" ry="1.06" transform="rotate(-2.0 307.0 269.0)"/>
<rect x="314.00" y="267.74" width="11.40" height="2.12" fill="rgb(4,4,4)" rx="1.8" ry="1.06"/>
<rect x="326.72" y="267.94" width="11.40" height="2.12" fill="rgb(4,4,4)" rx="1.8" ry="1.06" transform="rotate(1.6 332.4 269.0)"/>
<rect x="339.44" y="268.44" width="11.40" height="2.12" fill="rgb(4,4,4)" rx="1.8" ry="1.06" transform="rotate(2.3 345.1 269.5)"/>
</g>
</g>
<text x="245.9" y="267.6" font-size="7.8" text-anchor="end" font-weight="bold" fill="#000" stroke="#000" stroke-width="0.22">KM12</text>
<text x="354.8" y="261.4" font-size="7.8" text-anchor="start" font-weight="bold" fill="#000" stroke="#000" stroke-width="0.22" textLength="24.6" lengthAdjust="spacingAndGlyphs">c-MYC</text>
<text x="354.8" y="271.3" font-size="7.8" text-anchor="start" font-weight="bold" fill="#000" stroke="#000" stroke-width="0.22" textLength="27.6" lengthAdjust="spacingAndGlyphs">β-Actin</text>
<clipPath id="cp11"><rect x="248.4" y="279.9" width="104.6" height="21.5"/></clipPath>
<g clip-path="url(#cp11)">
<rect x="248.40" y="279.90" width="104.60" height="21.50" fill="rgb(191,191,191)"/>
<rect x="248.40" y="279.90" width="104.60" height="0.80" fill="rgb(209,209,209)" opacity="0.7"/>
<rect x="248.40" y="300.50" width="104.60" height="0.90" fill="rgb(177,177,177)" opacity="0.7"/>
<g filter="url(#b3)">
<rect x="250.20" y="285.70" width="11.80" height="5.60" fill="rgb(171,171,171)"/>
<rect x="262.92" y="284.40" width="11.80" height="5.60" fill="rgb(174,174,174)"/>
<rect x="275.64" y="284.00" width="11.80" height="5.60" fill="rgb(176,176,176)"/>
<rect x="288.36" y="283.60" width="11.80" height="5.60" fill="rgb(180,180,180)"/>
<rect x="301.08" y="283.00" width="11.80" height="5.60" fill="rgb(169,169,169)"/>
<rect x="313.80" y="283.00" width="11.80" height="5.60" fill="rgb(171,171,171)"/>
<rect x="326.52" y="283.00" width="11.80" height="5.60" fill="rgb(171,171,171)"/>
<rect x="339.24" y="283.60" width="11.80" height="5.60" fill="rgb(181,181,181)"/>
<rect x="275.64" y="282.00" width="11.80" height="5.60" fill="rgb(185,185,185)"/>
<rect x="288.36" y="281.60" width="11.80" height="5.60" fill="rgb(185,185,185)"/>
<rect x="301.08" y="281.00" width="11.80" height="5.60" fill="rgb(180,180,180)"/>
<rect x="313.80" y="281.00" width="11.80" height="5.60" fill="rgb(180,180,180)"/>
<rect x="326.52" y="281.00" width="11.80" height="5.60" fill="rgb(180,180,180)"/>
<rect x="339.24" y="281.60" width="11.80" height="5.60" fill="rgb(185,185,185)"/>
</g>
<g filter="url(#b1)">
<rect x="250.90" y="287.05" width="10.40" height="2.50" fill="rgb(101,101,101)" rx="1.4" ry="1.25" transform="rotate(-5.8 256.1 288.3)"/>
<rect x="263.62" y="285.75" width="10.40" height="2.50" fill="rgb(114,114,114)" rx="1.4" ry="1.25" transform="rotate(-3.8 268.8 287.0)"/>
<rect x="276.34" y="285.35" width="10.40" height="2.50" fill="rgb(124,124,124)" rx="1.4" ry="1.25" transform="rotate(-1.8 281.5 286.6)"/>
<rect x="289.06" y="284.95" width="10.40" height="2.50" fill="rgb(140,140,140)" rx="1.4" ry="1.25" transform="rotate(-2.3 294.3 286.2)"/>
<rect x="301.78" y="284.35" width="10.40" height="2.50" fill="rgb(89,89,89)" rx="1.4" ry="1.25" transform="rotate(-1.4 307.0 285.6)"/>
<rect x="314.50" y="284.35" width="10.40" height="2.50" fill="rgb(101,101,101)" rx="1.4" ry="1.25"/>
<rect x="327.22" y="284.35" width="10.40" height="2.50" fill="rgb(101,101,101)" rx="1.4" ry="1.25" transform="rotate(1.4 332.4 285.6)"/>
<rect x="339.94" y="284.95" width="10.40" height="2.50" fill="rgb(146,146,146)" rx="1.4" ry="1.25" transform="rotate(2.7 345.1 286.2)"/>
</g>
<g filter="url(#b1)">
<rect x="250.90" y="285.55" width="10.40" height="1.50" fill="rgb(170,170,170)" rx="1.4" ry="0.75" transform="rotate(-5.8 256.1 286.3)"/>
<rect x="263.62" y="284.25" width="10.40" height="1.50" fill="rgb(170,170,170)" rx="1.4" ry="0.75" transform="rotate(-3.8 268.8 285.0)"/>
<rect x="276.34" y="283.85" width="10.40" height="1.50" fill="rgb(163,163,163)" rx="1.4" ry="0.75" transform="rotate(-1.8 281.5 284.6)"/>
<rect x="289.06" y="283.45" width="10.40" height="1.50" fill="rgb(163,163,163)" rx="1.4" ry="0.75" transform="rotate(-2.3 294.3 284.2)"/>
<rect x="301.78" y="282.85" width="10.40" height="1.50" fill="rgb(135,135,135)" rx="1.4" ry="0.75" transform="rotate(-1.4 307.0 283.6)"/>
<rect x="314.50" y="282.85" width="10.40" height="1.50" fill="rgb(135,135,135)" rx="1.4" ry="0.75"/>
<rect x="327.22" y="282.85" width="10.40" height="1.50" fill="rgb(135,135,135)" rx="1.4" ry="0.75" transform="rotate(1.4 332.4 283.6)"/>
<rect x="339.94" y="283.45" width="10.40" height="1.50" fill="rgb(163,163,163)" rx="1.4" ry="0.75" transform="rotate(2.7 345.1 284.2)"/>
</g>
<g filter="url(#b2)">
<rect x="250.40" y="296.79" width="11.40" height="1.61" fill="rgb(13,13,13)" rx="1.8" ry="0.81" transform="rotate(-1.8 256.1 297.6)"/>
<rect x="263.12" y="296.39" width="11.40" height="1.61" fill="rgb(13,13,13)" rx="1.8" ry="0.81" transform="rotate(-1.8 268.8 297.2)"/>
<rect x="275.84" y="295.99" width="11.40" height="1.61" fill="rgb(13,13,13)" rx="1.8" ry="0.81" transform="rotate(-2.0 281.5 296.8)"/>
<rect x="288.56" y="295.49" width="11.40" height="1.61" fill="rgb(13,13,13)" rx="1.8" ry="0.81" transform="rotate(-2.0 294.3 296.3)"/>
<rect x="301.28" y="295.09" width="11.40" height="1.61" fill="rgb(13,13,13)" rx="1.8" ry="0.81" transform="rotate(-1.4 307.0 295.9)"/>
<rect x="314.00" y="294.89" width="11.40" height="1.61" fill="rgb(13,13,13)" rx="1.8" ry="0.81"/>
<rect x="326.72" y="295.09" width="11.40" height="1.61" fill="rgb(13,13,13)" rx="1.8" ry="0.81" transform="rotate(0.9 332.4 295.9)"/>
<rect x="339.44" y="295.29" width="11.40" height="1.61" fill="rgb(13,13,13)" rx="1.8" ry="0.81" transform="rotate(0.9 345.1 296.1)"/>
</g>
</g>
<text x="245.9" y="292.7" font-size="7.8" text-anchor="end" font-weight="bold" fill="#000" stroke="#000" stroke-width="0.22">SW480</text>
<text x="355.6" y="286.8" font-size="7.8" text-anchor="start" font-weight="bold" fill="#000" stroke="#000" stroke-width="0.22" textLength="24.6" lengthAdjust="spacingAndGlyphs">c-MYC</text>
<text x="355.6" y="296.9" font-size="7.8" text-anchor="start" font-weight="bold" fill="#000" stroke="#000" stroke-width="0.22" textLength="27.6" lengthAdjust="spacingAndGlyphs">β-Actin</text>
<clipPath id="cp12"><rect x="248.4" y="305.1" width="104.6" height="21.5"/></clipPath>
<g clip-path="url(#cp12)">
<rect x="248.40" y="305.10" width="104.60" height="21.50" fill="rgb(191,191,191)"/>
<rect x="248.40" y="305.10" width="104.60" height="0.80" fill="rgb(209,209,209)" opacity="0.7"/>
<rect x="248.40" y="325.70" width="104.60" height="0.90" fill="rgb(177,177,177)" opacity="0.7"/>
<g filter="url(#b3)">
<rect x="250.20" y="306.60" width="11.80" height="5.60" fill="rgb(171,171,171)"/>
<rect x="262.92" y="306.60" width="11.80" height="5.60" fill="rgb(175,175,175)"/>
<rect x="275.64" y="306.60" width="11.80" height="5.60" fill="rgb(173,173,173)"/>
<rect x="288.36" y="306.60" width="11.80" height="5.60" fill="rgb(178,178,178)"/>
<rect x="301.08" y="306.60" width="11.80" height="5.60" fill="rgb(169,169,169)"/>
<rect x="313.80" y="306.80" width="11.80" height="5.60" fill="rgb(171,171,171)"/>
<rect x="326.52" y="307.90" width="11.80" height="5.60" fill="rgb(181,181,181)"/>
<rect x="339.24" y="308.70" width="11.80" height="5.60" fill="rgb(173,173,173)"/>
</g>
<g filter="url(#b1)">
<rect x="250.90" y="307.90" width="10.40" height="2.60" fill="rgb(101,101,101)" rx="1.4" ry="1.30"/>
<rect x="263.62" y="307.90" width="10.40" height="2.60" fill="rgb(117,117,117)" rx="1.4" ry="1.30"/>
<rect x="276.34" y="307.90" width="10.40" height="2.60" fill="rgb(110,110,110)" rx="1.4" ry="1.30"/>
<rect x="289.06" y="307.90" width="10.40" height="2.60" fill="rgb(132,132,132)" rx="1.4" ry="1.30"/>
<rect x="301.78" y="307.90" width="10.40" height="2.60" fill="rgb(89,89,89)" rx="1.4" ry="1.30" transform="rotate(0.5 307.0 309.2)"/>
<rect x="314.50" y="308.10" width="10.40" height="2.60" fill="rgb(101,101,101)" rx="1.4" ry="1.30" transform="rotate(2.9 319.7 309.4)"/>
<rect x="327.22" y="309.20" width="10.40" height="2.60" fill="rgb(146,146,146)" rx="1.4" ry="1.30" transform="rotate(4.3 332.4 310.5)"/>
<rect x="339.94" y="310.00" width="10.40" height="2.60" fill="rgb(110,110,110)" rx="1.4" ry="1.30" transform="rotate(3.6 345.1 311.3)"/>
</g>
<g filter="url(#b1)">
<rect x="250.90" y="315.20" width="10.40" height="1.40" fill="rgb(183,183,183)" rx="1.4" ry="0.70"/>
<rect x="263.62" y="315.20" width="10.40" height="1.40" fill="rgb(183,183,183)" rx="1.4" ry="0.70"/>
<rect x="276.34" y="315.20" width="10.40" height="1.40" fill="rgb(183,183,183)" rx="1.4" ry="0.70"/>
<rect x="289.06" y="315.20" width="10.40" height="1.40" fill="rgb(183,183,183)" rx="1.4" ry="0.70"/>
<rect x="301.78" y="315.20" width="10.40" height="1.40" fill="rgb(183,183,183)" rx="1.4" ry="0.70"/>
<rect x="314.50" y="315.20" width="10.40" height="1.40" fill="rgb(183,183,183)" rx="1.4" ry="0.70"/>
<rect x="327.22" y="315.20" width="10.40" height="1.40" fill="rgb(183,183,183)" rx="1.4" ry="0.70"/>
<rect x="339.94" y="315.20" width="10.40" height="1.40" fill="rgb(183,183,183)" rx="1.4" ry="0.70"/>
</g>
<g filter="url(#b2)">
<rect x="250.40" y="319.17" width="11.40" height="2.46" fill="rgb(4,4,4)" rx="1.8" ry="1.23" transform="rotate(-1.8 256.1 320.4)"/>
<rect x="263.12" y="318.77" width="11.40" height="2.46" fill="rgb(4,4,4)" rx="1.8" ry="1.23"/>
<rect x="275.84" y="319.17" width="11.40" height="2.46" fill="rgb(4,4,4)" rx="1.8" ry="1.23" transform="rotate(1.8 281.5 320.4)"/>
<rect x="288.56" y="319.57" width="11.40" height="2.46" fill="rgb(4,4,4)" rx="1.8" ry="1.23" transform="rotate(0.9 294.3 320.8)"/>
<rect x="301.28" y="319.57" width="11.40" height="2.46" fill="rgb(4,4,4)" rx="1.8" ry="1.23" transform="rotate(0.5 307.0 320.8)"/>
<rect x="314.00" y="319.77" width="11.40" height="2.46" fill="rgb(4,4,4)" rx="1.8" ry="1.23" transform="rotate(2.5 319.7 321.0)"/>
<rect x="326.72" y="320.67" width="11.40" height="2.46" fill="rgb(4,4,4)" rx="1.8" ry="1.23" transform="rotate(2.5 332.4 321.9)"/>
<rect x="339.44" y="320.87" width="11.40" height="2.46" fill="rgb(4,4,4)" rx="1.8" ry="1.23" transform="rotate(0.9 345.1 322.1)"/>
</g>
</g>
<text x="245.9" y="318.5" font-size="7.8" text-anchor="end" font-weight="bold" fill="#000" stroke="#000" stroke-width="0.22">HuTu80</text>
<text x="355.6" y="312.6" font-size="7.8" text-anchor="start" font-weight="bold" fill="#000" stroke="#000" stroke-width="0.22" textLength="24.6" lengthAdjust="spacingAndGlyphs">c-MYC</text>
<text x="355.6" y="322.8" font-size="7.8" text-anchor="start" font-weight="bold" fill="#000" stroke="#000" stroke-width="0.22" textLength="27.6" lengthAdjust="spacingAndGlyphs">β-Actin</text>
</g>
<g id="panelE" filter="url(#soft)">
<text x="393.2" y="162.0" font-size="13.8" text-anchor="start" font-weight="bold" fill="#000" stroke="#000" stroke-width="0.22">E</text>
<line x1="427.00" y1="176.95" x2="427.00" y2="269.40" stroke="#000" stroke-width="1.2"/>
<line x1="426.40" y1="268.80" x2="520.00" y2="268.80" stroke="#000" stroke-width="1.2"/>
<line x1="424.20" y1="268.80" x2="427.00" y2="268.80" stroke="#000" stroke-width="1.0"/>
<text x="423.2" y="271.1" font-size="6.4" text-anchor="end" font-weight="bold" fill="#000" stroke="#000" stroke-width="0.22">0.0</text>
<line x1="424.20" y1="238.35" x2="427.00" y2="238.35" stroke="#000" stroke-width="1.0"/>
<text x="423.2" y="240.65000000000003" font-size="6.4" text-anchor="end" font-weight="bold" fill="#000" stroke="#000" stroke-width="0.22">0.5</text>
<line x1="424.20" y1="207.90" x2="427.00" y2="207.90" stroke="#000" stroke-width="1.0"/>
<text x="423.2" y="210.20000000000002" font-size="6.4" text-anchor="end" font-weight="bold" fill="#000" stroke="#000" stroke-width="0.22">1.0</text>
<line x1="424.20" y1="177.45" x2="427.00" y2="177.45" stroke="#000" stroke-width="1.0"/>
<text x="423.2" y="179.75000000000003" font-size="6.4" text-anchor="end" font-weight="bold" fill="#000" stroke="#000" stroke-width="0.22">1.5</text>
<text x="400.8" y="223.4" font-size="7.8" text-anchor="middle" font-weight="bold" fill="#000" transform="rotate(-90 400.8 223.4)" stroke="#000" stroke-width="0.22" textLength="43.0" lengthAdjust="spacingAndGlyphs">Rel. c-MYC</text>
<text x="410.8" y="222.9" font-size="7.8" text-anchor="middle" font-weight="bold" fill="#000" transform="rotate(-90 410.8 222.9)" stroke="#000" stroke-width="0.22" textLength="74.4" lengthAdjust="spacingAndGlyphs">protein expression</text>
<rect x="441.30" y="170.70" width="10.00" height="4.40" fill="#aaa"/>
<rect x="441.30" y="178.10" width="10.00" height="4.40" fill="#000"/>
<rect x="441.30" y="185.00" width="10.00" height="4.40" fill="#444"/>
<text x="456.7" y="175.0" font-size="6.2" text-anchor="start" font-weight="bold" fill="#000" stroke="#000" stroke-width="0.22" textLength="23.3" lengthAdjust="spacing">Control</text>
<text x="456.7" y="182.3" font-size="6.2" text-anchor="start" font-weight="bold" fill="#000" stroke="#000" stroke-width="0.22" textLength="50.3" lengthAdjust="spacing">iBET (Sensitive)</text>
<text x="456.7" y="189.3" font-size="6.2" text-anchor="start" font-weight="bold" fill="#000" stroke="#000" stroke-width="0.22" textLength="50.3" lengthAdjust="spacing">iBET (Resistant)</text>
<rect x="430.80" y="207.90" width="5.00" height="60.90" fill="#aaa"/>
<line x1="439.40" y1="215.00" x2="439.40" y2="224.50" stroke="#000" stroke-width="1.1"/>
<line x1="437.90" y1="215.00" x2="440.90" y2="215.00" stroke="#000" stroke-width="1.0"/>
<rect x="436.80" y="224.50" width="5.20" height="44.30" fill="#000"/>
<line x1="445.40" y1="194.50" x2="445.40" y2="211.30" stroke="#444" stroke-width="1.1"/>
<line x1="443.90" y1="194.50" x2="446.90" y2="194.50" stroke="#444" stroke-width="1.0"/>
<rect x="442.80" y="211.30" width="5.30" height="57.50" fill="#444"/>
<line x1="439.70" y1="268.80" x2="439.70" y2="271.40" stroke="#000" stroke-width="1.0"/>
<rect x="453.60" y="207.90" width="5.00" height="60.90" fill="#aaa"/>
<line x1="462.20" y1="229.50" x2="462.20" y2="235.80" stroke="#000" stroke-width="1.1"/>
<line x1="460.70" y1="229.50" x2="463.70" y2="229.50" stroke="#000" stroke-width="1.0"/>
<rect x="459.60" y="235.80" width="5.20" height="33.00" fill="#000"/>
<rect x="465.60" y="219.50" width="5.30" height="49.30" fill="#444"/>
<line x1="462.50" y1="268.80" x2="462.50" y2="271.40" stroke="#000" stroke-width="1.0"/>
<rect x="476.40" y="207.90" width="5.00" height="60.90" fill="#aaa"/>
<rect x="482.40" y="234.50" width="5.20" height="34.30" fill="#000"/>
<line x1="491.00" y1="207.00" x2="491.00" y2="212.00" stroke="#444" stroke-width="1.1"/>
<line x1="489.50" y1="207.00" x2="492.50" y2="207.00" stroke="#444" stroke-width="1.0"/>
<rect x="488.40" y="212.00" width="5.30" height="56.80" fill="#444"/>
<line x1="485.30" y1="268.80" x2="485.30" y2="271.40" stroke="#000" stroke-width="1.0"/>
<rect x="499.20" y="207.90" width="5.00" height="60.90" fill="#aaa"/>
<line x1="507.80" y1="240.50" x2="507.80" y2="241.80" stroke="#000" stroke-width="1.1"/>
<line x1="506.30" y1="240.50" x2="509.30" y2="240.50" stroke="#000" stroke-width="1.0"/>
<rect x="505.20" y="241.80" width="5.20" height="27.00" fill="#000"/>
<line x1="513.80" y1="205.50" x2="513.80" y2="223.00" stroke="#444" stroke-width="1.1"/>
<line x1="512.30" y1="205.50" x2="515.30" y2="205.50" stroke="#444" stroke-width="1.0"/>
<rect x="511.20" y="223.00" width="5.30" height="45.80" fill="#444"/>
<line x1="508.10" y1="268.80" x2="508.10" y2="271.40" stroke="#000" stroke-width="1.0"/>
<text x="439.8" y="278.9" font-size="7.0" text-anchor="middle" font-weight="bold" fill="#000" stroke="#000" stroke-width="0.22">2 h</text>
<text x="463.0" y="278.9" font-size="7.0" text-anchor="middle" font-weight="bold" fill="#000" stroke="#000" stroke-width="0.22">4 h</text>
<text x="485.5" y="278.9" font-size="7.0" text-anchor="middle" font-weight="bold" fill="#000" stroke="#000" stroke-width="0.22">8 h</text>
<text x="508.5" y="278.9" font-size="7.0" text-anchor="middle" font-weight="bold" fill="#000" stroke="#000" stroke-width="0.22">24 h</text>
<line x1="484.20" y1="203.10" x2="491.00" y2="203.10" stroke="#000" stroke-width="1.3"/>
<line x1="484.40" y1="201.00" x2="484.40" y2="205.30" stroke="#000" stroke-width="1.2"/>
<line x1="490.80" y1="201.00" x2="490.80" y2="205.30" stroke="#000" stroke-width="1.2"/>
<text x="487.8" y="204.9" font-size="10.5" text-anchor="middle" font-weight="bold" fill="#000" stroke="#000" stroke-width="0.5">*</text>
</g>
</svg>
</body></html>
